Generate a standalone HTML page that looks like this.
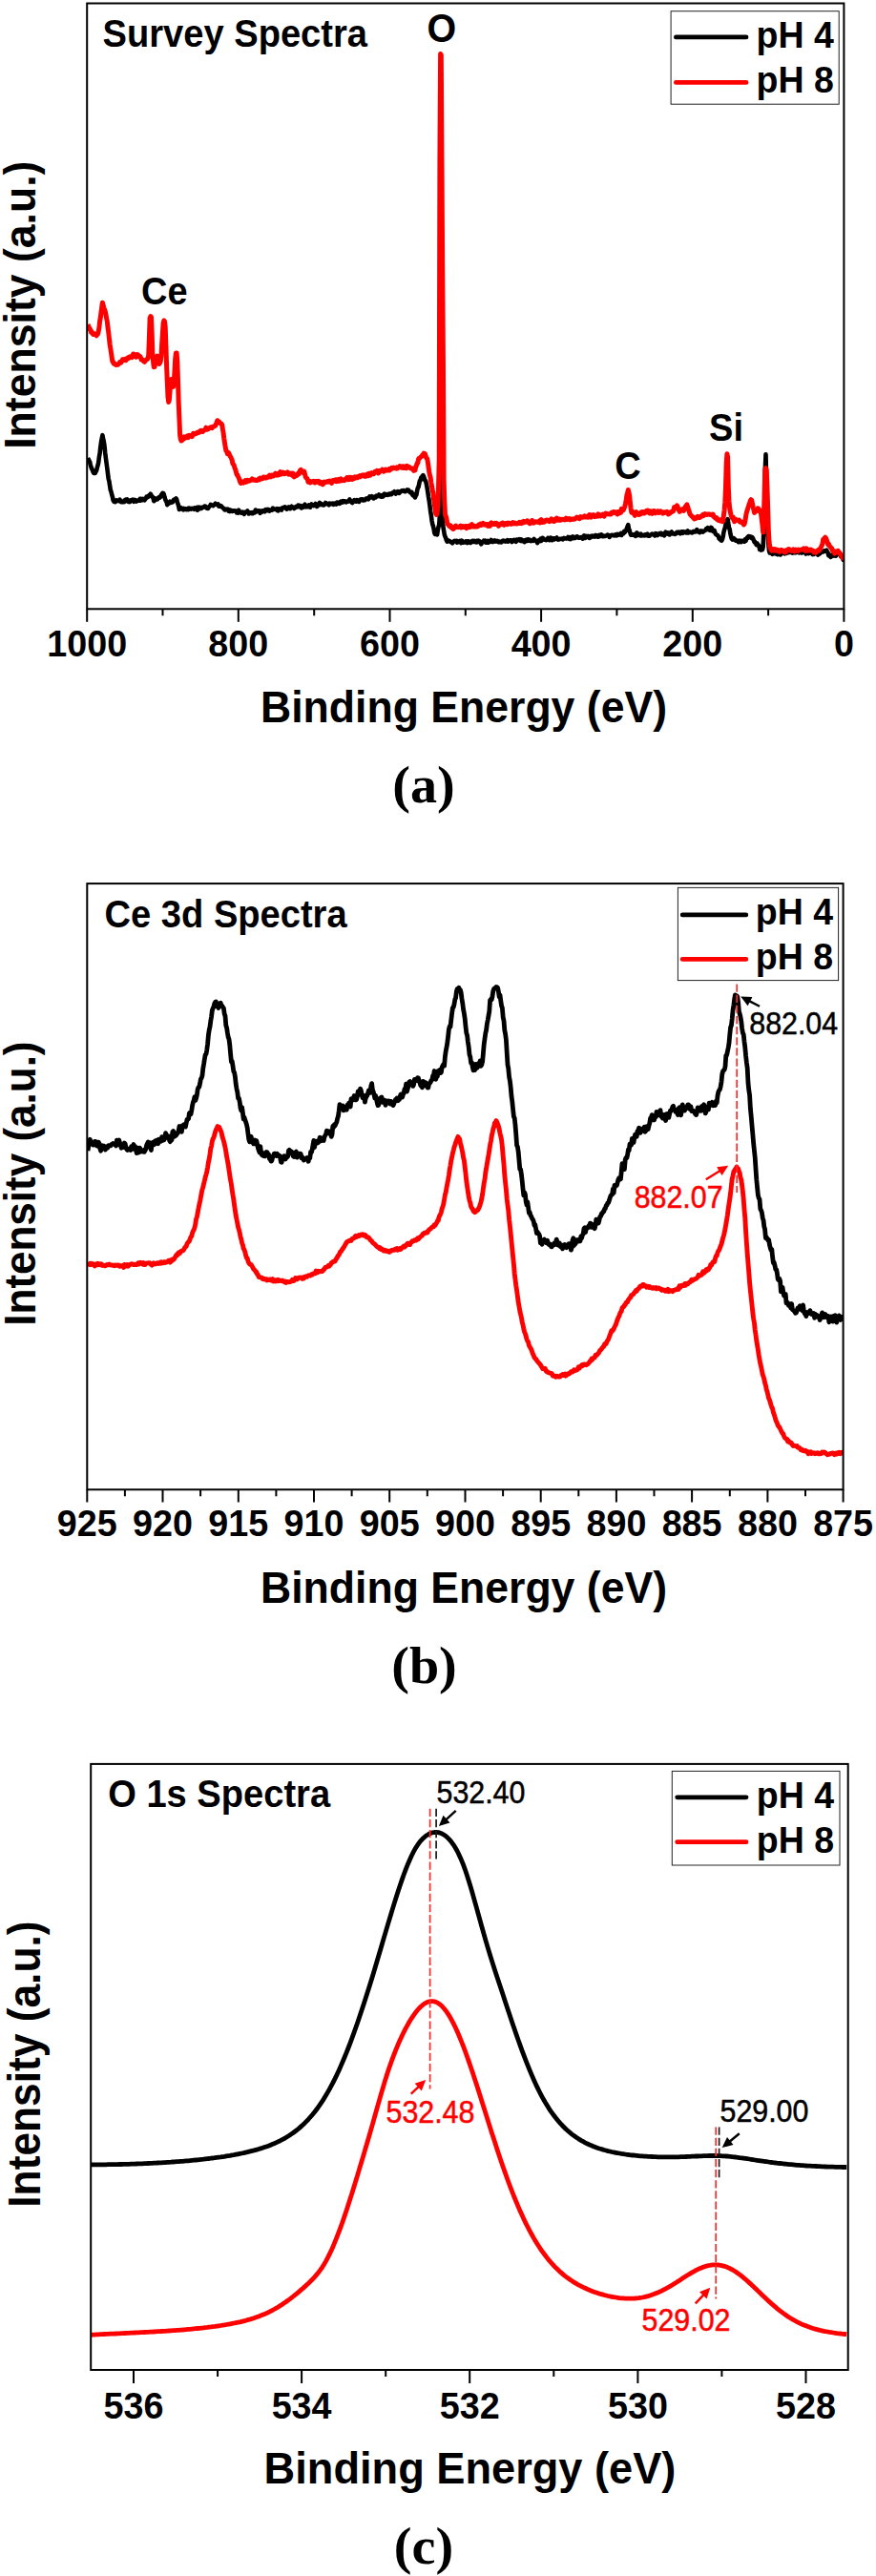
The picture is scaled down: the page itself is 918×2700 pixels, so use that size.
<!DOCTYPE html>
<html lang="en">
<head>
<meta charset="utf-8">
<title>XPS spectra</title>
<style>
html,body{margin:0;padding:0;background:#fff;}
body{width:918px;height:2700px;overflow:hidden;}
svg{display:block;}
svg text{font-family:"Liberation Sans",sans-serif;}
</style>
</head>
<body>
<svg width="918" height="2700" viewBox="0 0 918 2700">
<rect x="0" y="0" width="918" height="2700" fill="#ffffff"/>
<g id="chart-a">
<clipPath id="ca"><rect x="91.2" y="3.5" width="793.1999999999999" height="634.8"/></clipPath>
<g clip-path="url(#ca)">
<polyline points="92,480.2 92.7,481.4 93.4,483.1 94.1,484 94.8,487.3 95.5,489.7 96.2,491.4 96.9,492.7 97.6,494.6 98.3,495.8 99,496 99.7,495.9 100.4,494.5 101.1,493.2 101.8,490.2 102.5,487.9 103.2,484.8 103.9,479 104.6,475.3 105.3,468.6 106,463.5 106.7,459.7 107.4,456.2 108.1,459.6 108.8,462.8 109.5,467.4 110.2,474.5 110.9,480.1 111.6,485.5 112.3,490.7 113,496.4 113.7,501.9 114.4,504.3 115.1,509.2 115.8,513.7 116.5,515.4 117.2,518.4 117.9,520.8 118.6,524.4 119.3,525.6 120,524.7 120.7,526.2 121.4,525.4 122.1,524.3 122.8,525 123.5,525 124.2,524.9 124.9,525.2 125.6,523.7 126.3,525.1 127,526.2 127.7,526.2 128.4,526.3 129.1,526.3 129.8,526.3 130.5,524.4 131.2,525.4 131.9,523.5 132.6,524 133.3,523.4 134,525.6 134.7,525.9 135.4,524.9 136.1,526 136.8,524.3 137.5,524.6 138.2,524.5 138.9,523.7 139.6,524.9 140.3,525.8 141,523.8 141.7,524.9 142.4,524.4 143.1,525.6 143.8,524.8 144.5,524.7 145.2,524.6 145.9,524.1 146.6,523 147.3,524.7 148,522.9 148.7,523.9 149.4,524.1 150.1,523 150.8,523.6 151.5,524.3 152.2,523.3 152.9,522.2 153.6,520.6 154.3,521.5 155,521 155.7,520.1 156.4,519 157.1,518.9 157.8,517.7 158.5,519.1 159.2,520.7 159.9,520.7 160.6,522.3 161.3,525.2 162,524.4 162.7,522.4 163.4,522.9 164.1,523.3 164.8,523.5 165.5,522.4 166.2,521.5 166.9,521.1 167.6,521.5 168.3,520.4 169,518.7 169.7,517.9 170.4,516.9 171.1,517 171.8,518.2 172.5,521 173.2,523.4 173.9,525 174.6,526.1 175.3,529.2 176,527.6 176.7,527.9 177.4,526.7 178.1,525.7 178.8,526.9 179.5,526.8 180.2,526.3 180.9,526.2 181.6,524.7 182.3,523.6 183,523.4 183.7,524 184.4,522.3 185.1,523.3 185.8,526.3 186.5,528.1 187.2,530.6 187.9,534 188.6,532.9 189.3,531.9 190,532.5 190.7,533.4 191.4,533.6 192.1,534.3 192.8,533 193.5,533.9 194.2,533.8 194.9,533.4 195.6,534.1 196.3,533.8 197,532.9 197.7,534 198.4,532.6 199.1,533.3 199.8,533.5 200.5,533.6 201.2,532.8 201.9,533.1 202.6,533.1 203.3,533.7 204,532.5 204.7,532.9 205.4,532.5 206.1,532 206.8,534.7 207.5,532.7 208.2,531.6 208.9,533.3 209.6,531.8 210.3,532.6 211,532.9 211.7,531.8 212.4,531.7 213.1,531.6 213.8,531.7 214.5,530.5 215.2,530.7 215.9,531.7 216.6,532.6 217.3,532.4 218,532.9 218.7,531.8 219.4,530.6 220.1,530.4 220.8,528.8 221.5,529.2 222.2,529.2 222.9,530 223.6,530.1 224.3,529 225,528.5 225.7,527.7 226.4,528.6 227.1,528.8 227.8,528.7 228.5,528.3 229.2,530.7 229.9,530.7 230.6,530 231.3,530 232,530.6 232.7,531.5 233.4,531.9 234.1,532.7 234.8,533.5 235.5,534.5 236.2,534.5 236.9,533.7 237.6,534 238.3,533.6 239,533.8 239.7,535.6 240.4,534.5 241.1,536 241.8,534.7 242.5,535.2 243.2,535.9 243.9,535.4 244.6,535.6 245.3,535.3 246,535.2 246.7,535.6 247.4,535.6 248.1,537.3 248.8,536.5 249.5,537.5 250.2,534.7 250.9,536.5 251.6,537.2 252.3,536.7 253,537.6 253.7,537.3 254.4,536.6 255.1,537.3 255.8,538.9 256.5,537.1 257.2,536.8 257.9,536.3 258.6,536.5 259.3,535.5 260,536.5 260.7,538.5 261.4,537.6 262.1,537.2 262.8,537.5 263.5,538 264.2,537.2 264.9,538.1 265.6,537.4 266.3,536.7 267,537.4 267.7,534.5 268.4,535.5 269.1,536.2 269.8,535.3 270.5,535.6 271.2,535.3 271.9,535.5 272.6,537.8 273.3,536.3 274,535.6 274.7,536.4 275.4,535.3 276.1,535.9 276.8,535.7 277.5,536.2 278.2,534.1 278.9,535.3 279.6,534.8 280.3,533.9 281,535.2 281.7,534.1 282.4,535.6 283.1,535 283.8,534.8 284.5,534.4 285.2,534.6 285.9,532.6 286.6,533.7 287.3,533.4 288,533.9 288.7,533.7 289.4,534 290.1,533.2 290.8,535.1 291.5,535.4 292.2,533.4 292.9,533.3 293.6,533.6 294.3,534.4 295,534.6 295.7,532.2 296.4,532.2 297.1,531.9 297.8,531.7 298.5,531.4 299.2,532.7 299.9,531.9 300.6,533.7 301.3,533.2 302,531.6 302.7,531.4 303.4,531.8 304.1,533.1 304.8,531.5 305.5,530.8 306.2,531.8 306.9,532.2 307.6,531.6 308.3,533 309,532.1 309.7,532 310.4,531 311.1,531.4 311.8,531.1 312.5,529.6 313.2,531.1 313.9,529.9 314.6,530.8 315.3,530.2 316,532.5 316.7,531.5 317.4,531.7 318.1,531.5 318.8,529.6 319.5,528.8 320.2,530.2 320.9,531.3 321.6,530.8 322.3,531.2 323,531 323.7,529.3 324.4,530.5 325.1,531.7 325.8,529.6 326.5,528.4 327.2,529.5 327.9,529.5 328.6,530 329.3,529.1 330,529.4 330.7,528 331.4,530.1 332.1,530.9 332.8,530.4 333.5,528.3 334.2,529 334.9,526.9 335.6,529 336.3,528.9 337,528.2 337.7,529.1 338.4,529.1 339.1,529.5 339.8,528.9 340.5,528.6 341.2,527 341.9,527.3 342.6,528 343.3,528.5 344,528.5 344.7,529.3 345.4,527.6 346.1,527.8 346.8,528.2 347.5,527.8 348.2,528.2 348.9,527.6 349.6,528.8 350.3,527.7 351,528.4 351.7,527.8 352.4,528.5 353.1,526.5 353.8,527.5 354.5,527 355.2,527.4 355.9,527.9 356.6,526 357.3,525.6 358,525.9 358.7,526.6 359.4,525.1 360.1,526.2 360.8,525.3 361.5,525.2 362.2,525.8 362.9,526.3 363.6,525.5 364.3,525.5 365,525.7 365.7,525.2 366.4,523.5 367.1,524.9 367.8,525.6 368.5,526.4 369.2,527 369.9,525.9 370.6,525.1 371.3,524.2 372,524.9 372.7,525.5 373.4,525.7 374.1,524.1 374.8,524.7 375.5,525.3 376.2,525.9 376.9,524.6 377.6,523.7 378.3,523.4 379,523.5 379.7,523.4 380.4,524.4 381.1,524.5 381.8,524.2 382.5,524.2 383.2,522.8 383.9,523.1 384.6,522.4 385.3,522.7 386,523.3 386.7,522.1 387.4,520.5 388.1,521.4 388.8,520.9 389.5,520.2 390.2,520.7 390.9,522 391.6,522.4 392.3,520.8 393,521.5 393.7,521.4 394.4,519.6 395.1,520.1 395.8,520.1 396.5,519.9 397.2,518.5 397.9,519.3 398.6,520.4 399.3,520.7 400,520.8 400.7,519.2 401.4,520.4 402.1,519.4 402.8,517.7 403.5,518.9 404.2,518.2 404.9,518.6 405.6,518.2 406.3,518.9 407,518.1 407.7,517.6 408.4,518.3 409.1,517.6 409.8,517.1 410.5,518 411.2,516.7 411.9,516.2 412.6,516.1 413.3,515.3 414,516 414.7,517.6 415.4,515.7 416.1,515.8 416.8,515 417.5,515.3 418.2,516.9 418.9,516.3 419.6,515 420.3,515.1 421,514.4 421.7,514.3 422.4,514.1 423.1,514.1 423.8,515 424.5,515.3 425.2,515.1 425.9,514.3 426.6,513.4 427.3,514.1 428,513.6 428.7,514.9 429.4,515.6 430.1,516.3 430.8,516 431.5,515.8 432.2,518.5 432.9,519.4 433.6,518.2 434.3,520 435,521.4 435.7,519.4 436.4,518.5 437.1,514.5 437.8,511.4 438.5,510.5 439.2,507.3 439.9,504 440.6,503.4 441.3,500.5 442,501.6 442.7,498.8 443.4,498.1 444.1,499.5 444.8,501.8 445.5,503.7 446.2,504.3 446.9,507.4 447.6,511.3 448.3,515.6 449,520.6 449.7,524.7 450.4,529.7 451.1,535.6 451.8,539.8 452.5,545.3 453.2,549.2 453.9,551.4 454.6,554.2 455.3,558.7 456,560 456.7,559.8 457.4,559.4 458.1,560.4 458.8,555.5 459.5,552.2 460.2,550.1 460.9,539.8 461.6,520.4 462.3,299.3 463,373.8 463.7,534.9 464.4,552.1 465.1,556.2 465.8,560.5 466.5,562.4 467.2,564 467.9,566.2 468.6,567.6 469.3,566.4 470,566.5 470.7,567 471.4,567.2 472.1,568 472.8,568.3 473.5,568.4 474.2,569.3 474.9,568.3 475.6,567.4 476.3,566.9 477,567.3 477.7,567.2 478.4,566.8 479.1,568.6 479.8,568.4 480.5,567.8 481.2,567.3 481.9,566.8 482.6,567.5 483.3,569.2 484,566.6 484.7,568 485.4,568.7 486.1,568.2 486.8,567.9 487.5,568.4 488.2,567.3 488.9,568.4 489.6,569 490.3,567.2 491,567.2 491.7,568 492.4,568.8 493.1,569 493.8,568.4 494.5,567.2 495.2,566.8 495.9,567.8 496.6,567.9 497.3,566.9 498,567.6 498.7,568 499.4,568.4 500.1,567 500.8,567.8 501.5,566.7 502.2,567.1 502.9,567.6 503.6,569.1 504.3,570.3 505,568.1 505.7,568 506.4,568.2 507.1,566.6 507.8,567.8 508.5,566.7 509.2,568.7 509.9,568.7 510.6,567.8 511.3,566.9 512,568.6 512.7,567.7 513.4,567.5 514.1,567.6 514.8,566 515.5,567.5 516.2,568.1 516.9,567.6 517.6,567.2 518.3,566.5 519,567.6 519.7,567.4 520.4,567.1 521.1,566.8 521.8,567.8 522.5,568.2 523.2,567.6 523.9,567.9 524.6,568.3 525.3,568.4 526,567.3 526.7,566.8 527.4,566.6 528.1,567 528.8,567.4 529.5,567.6 530.2,566.7 530.9,566.8 531.6,566.2 532.3,567.7 533,566.7 533.7,567 534.4,566.2 535.1,566.4 535.8,566.4 536.5,568 537.2,567.1 537.9,566.5 538.6,565.8 539.3,566.1 540,567.2 540.7,567.8 541.4,565.6 542.1,565.7 542.8,566.3 543.5,565.9 544.2,565.2 544.9,566.4 545.6,566.9 546.3,565.3 547,566.6 547.7,567.3 548.4,567.2 549.1,566.4 549.8,568.2 550.5,567 551.2,565.9 551.9,566.9 552.6,565.6 553.3,566.8 554,565.5 554.7,566.7 555.4,566 556.1,567.1 556.8,567 557.5,566.6 558.2,566.4 558.9,566.8 559.6,564.9 560.3,566.3 561,566.5 561.7,566.7 562.4,567.2 563.1,569 563.8,566.6 564.5,566.7 565.2,566.4 565.9,567 566.6,564.7 567.3,566.9 568,565.2 568.7,563.8 569.4,564.6 570.1,565.5 570.8,565.8 571.5,565.7 572.2,566.2 572.9,565.6 573.6,565.2 574.3,563.8 575,565.6 575.7,566.1 576.4,564.9 577.1,563.6 577.8,564.1 578.5,566.2 579.2,564.7 579.9,564.4 580.6,564.4 581.3,565.3 582,564.4 582.7,564 583.4,563.5 584.1,564.6 584.8,565.5 585.5,564.8 586.2,565.3 586.9,564.8 587.6,564.7 588.3,564.7 589,564.6 589.7,565.3 590.4,564.8 591.1,563.9 591.8,564.3 592.5,564.2 593.2,564.6 593.9,564.4 594.6,564.3 595.3,563 596,564.3 596.7,564.9 597.4,563.2 598.1,565 598.8,564.2 599.5,563.4 600.2,562.4 600.9,564.2 601.6,562.9 602.3,563.1 603,563.8 603.7,562.6 604.4,562.4 605.1,562.4 605.8,563.2 606.5,563.8 607.2,563.7 607.9,563.5 608.6,563 609.3,563.1 610,562.8 610.7,564.5 611.4,563.1 612.1,561.3 612.8,562 613.5,563.8 614.2,561.9 614.9,562.3 615.6,562.9 616.3,562 617,563.5 617.7,563.9 618.4,562.2 619.1,563.2 619.8,561.8 620.5,561.5 621.2,562.5 621.9,562.4 622.6,561.9 623.3,562.6 624,561 624.7,561.2 625.4,561.2 626.1,562.6 626.8,562.8 627.5,562.4 628.2,561 628.9,561.8 629.6,562 630.3,560.4 631,561 631.7,562.1 632.4,562.2 633.1,561.9 633.8,562 634.5,561.8 635.2,561.6 635.9,561.2 636.6,560.6 637.3,561 638,561.1 638.7,563 639.4,561.6 640.1,561.1 640.8,560.9 641.5,560.9 642.2,560.8 642.9,561.3 643.6,561 644.3,561.4 645,560.4 645.7,561 646.4,561.3 647.1,559.8 647.8,560.6 648.5,560.7 649.2,560.2 649.9,559.8 650.6,559 651.3,561 652,559.6 652.7,558.7 653.4,559.1 654.1,556.8 654.8,557.8 655.5,556.9 656.2,555.8 656.9,553.9 657.6,551.7 658.3,550.2 659,554.5 659.7,555.9 660.4,558.4 661.1,560.7 661.8,559.9 662.5,560.7 663.2,560.8 663.9,560.7 664.6,560.1 665.3,560.5 666,561.9 666.7,561.3 667.4,558.4 668.1,559 668.8,560.9 669.5,560.7 670.2,560.6 670.9,561.3 671.6,559.6 672.3,561.5 673,561 673.7,561.1 674.4,561 675.1,561.3 675.8,560.4 676.5,560.2 677.2,561.1 677.9,560.6 678.6,559.7 679.3,561.6 680,561.7 680.7,561.7 681.4,560.7 682.1,560.7 682.8,560 683.5,559.6 684.2,560.3 684.9,560.4 685.6,560 686.3,561.5 687,559.1 687.7,559.3 688.4,559.7 689.1,561 689.8,559.9 690.5,559.6 691.2,559.1 691.9,559 692.6,558.8 693.3,560.5 694,560.4 694.7,560.4 695.4,559.4 696.1,561.3 696.8,558.7 697.5,557.7 698.2,558.9 698.9,559.4 699.6,559.7 700.3,558.5 701,559.6 701.7,560.4 702.4,558.4 703.1,558.1 703.8,557.5 704.5,558.9 705.2,559.5 705.9,559.5 706.6,559.5 707.3,559.8 708,558.9 708.7,559.1 709.4,557.7 710.1,557.7 710.8,558.3 711.5,557.7 712.2,558.7 712.9,559.3 713.6,558.5 714.3,557.4 715,557.4 715.7,558.8 716.4,557.4 717.1,557.8 717.8,557.6 718.5,557.8 719.2,558.4 719.9,557.1 720.6,556.5 721.3,558.5 722,557.8 722.7,558 723.4,557.5 724.1,558 724.8,558.5 725.5,558.4 726.2,557.1 726.9,556.9 727.6,557.4 728.3,557.3 729,557.4 729.7,556.2 730.4,555.1 731.1,557.1 731.8,557.5 732.5,557.5 733.2,558.2 733.9,557.5 734.6,556.5 735.3,557.3 736,556.7 736.7,557.5 737.4,556.7 738.1,556.5 738.8,556.1 739.5,555.5 740.2,554.2 740.9,554.8 741.6,553.1 742.3,554.9 743,555.4 743.7,555.8 744.4,554.3 745.1,552.9 745.8,553.3 746.5,556.4 747.2,555.2 747.9,557.1 748.6,555.9 749.3,558.2 750,559.8 750.7,560.4 751.4,560.9 752.1,561.2 752.8,562.1 753.5,564.4 754.2,565 754.9,565.4 755.6,566.4 756.3,566.7 757,565.1 757.7,562.3 758.4,557.8 759.1,555.4 759.8,553.1 760.5,549.4 761.2,548.5 761.9,545.4 762.6,544.2 763.3,548.9 764,553.1 764.7,554.9 765.4,559.5 766.1,562.6 766.8,564.7 767.5,565.5 768.2,564.8 768.9,564.2 769.6,564.5 770.3,565.9 771,566.7 771.7,566.5 772.4,566.6 773.1,567 773.8,568.2 774.5,567.8 775.2,566.7 775.9,567.1 776.6,568.1 777.3,566.9 778,566.9 778.7,567.1 779.4,566.6 780.1,567.7 780.8,565.3 781.5,566.9 782.2,565 782.9,563.7 783.6,563.9 784.3,562 785,562.9 785.7,562.9 786.4,562.3 787.1,562.8 787.8,564 788.5,563.3 789.2,564.6 789.9,566.3 790.6,568.3 791.3,568.1 792,569.6 792.7,571.1 793.4,569.4 794.1,571.5 794.8,571.3 795.5,572.4 796.2,576 796.9,575.6 797.6,576.5 798.3,575.5 799,576.1 799.7,573 800.4,554.9 801.1,534 801.8,493 802.5,476.2 803.2,504.6 803.9,542.2 804.6,555.9 805.3,569.9 806,577.3 806.7,579.4 807.4,578.9 808.1,579.7 808.8,579.9 809.5,580.8 810.2,580.4 810.9,580 811.6,580 812.3,580.2 813,580.5 813.7,580.4 814.4,581 815.1,581.2 815.8,580.2 816.5,578.8 817.2,581 817.9,581.4 818.6,579.4 819.3,578.9 820,577.9 820.7,579.7 821.4,578.9 822.1,580.4 822.8,577.6 823.5,579.2 824.2,579.8 824.9,578.9 825.6,578.6 826.3,579.2 827,578.7 827.7,578.8 828.4,578.9 829.1,578.6 829.8,578.8 830.5,579.5 831.2,578.7 831.9,578.9 832.6,578.4 833.3,579.3 834,578 834.7,579.1 835.4,576.4 836.1,577.5 836.8,577.4 837.5,579.3 838.2,578.8 838.9,577.5 839.6,578.1 840.3,579.5 841,578.6 841.7,578.7 842.4,577.1 843.1,577.2 843.8,579.1 844.5,580.5 845.2,578.7 845.9,579.3 846.6,578.6 847.3,580.1 848,579.1 848.7,578.9 849.4,578.1 850.1,579.3 850.8,580.2 851.5,581 852.2,579.5 852.9,580.9 853.6,580.2 854.3,580.2 855,579.8 855.7,579.3 856.4,580 857.1,581.6 857.8,579.5 858.5,579.6 859.2,580.2 859.9,577.7 860.6,579 861.3,578.2 862,578.4 862.7,578.5 863.4,577.5 864.1,577.2 864.8,577.6 865.5,577.3 866.2,576.7 866.9,578.3 867.6,579.2 868.3,582.3 869,581.2 869.7,582.4 870.4,583.9 871.1,583.4 871.8,582.7 872.5,582 873.2,581.8 873.9,582.5 874.6,581.7 875.3,581.3 876,582.7 876.7,580.2 877.4,580 878.1,580 878.8,580.3 879.5,580.2 880.2,580.8 880.9,582.6 881.6,583.6 882.3,583.8 883,583.4 883.7,586.7 883.8,585.8" fill="none" stroke="#000000" stroke-width="4.6" stroke-linejoin="round" stroke-linecap="butt" />
<polyline points="92,340.4 92.7,341.4 93.4,344.7 94.1,344.3 94.8,345.8 95.5,348.2 96.2,347.8 96.9,349.3 97.6,350.4 98.3,350.2 99,349.8 99.7,350.8 100.4,351.1 101.1,351.8 101.8,350.5 102.5,350.1 103.2,347.4 103.9,343.4 104.6,336.6 105.3,333.1 106,327.1 106.7,322.1 107.4,317.2 108.1,319.6 108.8,322.6 109.5,324.3 110.2,326.1 110.9,329.4 111.6,333.3 112.3,337 113,343 113.7,348.1 114.4,354.6 115.1,360.6 115.8,365.2 116.5,370 117.2,374.7 117.9,379 118.6,379.2 119.3,381.3 120,381 120.7,381.8 121.4,382.5 122.1,382.3 122.8,381.9 123.5,382.3 124.2,381.7 124.9,380.7 125.6,379.5 126.3,379.3 127,380 127.7,378.6 128.4,376.8 129.1,376.7 129.8,376.6 130.5,377.4 131.2,376.4 131.9,377.7 132.6,376.4 133.3,375.5 134,374.9 134.7,375.6 135.4,374.5 136.1,373.8 136.8,374.5 137.5,374.1 138.2,374.6 138.9,373.2 139.6,371 140.3,373.1 141,371.5 141.7,373.7 142.4,374.2 143.1,372.4 143.8,371.6 144.5,371.7 145.2,373.5 145.9,373.1 146.6,373.3 147.3,374.5 148,376.9 148.7,376.5 149.4,377.3 150.1,378.1 150.8,378.9 151.5,379.3 152.2,377.6 152.9,377.4 153.6,376.7 154.3,376.5 155,375.7 155.7,372.6 156.4,353.8 157.1,333.5 157.8,331.5 158.5,332.5 159.2,349.7 159.9,371.5 160.6,379.6 161.3,384.7 162,384.6 162.7,379.8 163.4,375.2 164.1,374.2 164.8,373.1 165.5,375.3 166.2,376.5 166.9,381.5 167.6,380.3 168.3,378.5 169,372.6 169.7,360.1 170.4,349.2 171.1,338.9 171.8,336 172.5,336.9 173.2,342.5 173.9,362.2 174.6,384.1 175.3,400 176,416.2 176.7,421.5 177.4,418.6 178.1,409.8 178.8,400.8 179.5,397.6 180.2,400.1 180.9,401.5 181.6,405.4 182.3,400.3 183,389.2 183.7,376 184.4,370 185.1,369.9 185.8,378.6 186.5,398.3 187.2,421.9 187.9,438.4 188.6,455.8 189.3,460.3 190,462 190.7,461.6 191.4,460.8 192.1,459 192.8,458 193.5,459.5 194.2,458.7 194.9,458.3 195.6,457.3 196.3,456.9 197,458.6 197.7,457.7 198.4,456.3 199.1,457 199.8,456.8 200.5,456.9 201.2,457.7 201.9,455.7 202.6,454.3 203.3,454.9 204,454.3 204.7,454.9 205.4,454.5 206.1,454.2 206.8,453.3 207.5,453.6 208.2,452.8 208.9,453.1 209.6,452.2 210.3,451.3 211,452.1 211.7,451.3 212.4,452.5 213.1,451.6 213.8,451.2 214.5,450.6 215.2,449.9 215.9,448.2 216.6,450.3 217.3,449 218,449.9 218.7,448.7 219.4,448.8 220.1,448.5 220.8,447.8 221.5,448.3 222.2,448.7 222.9,447.8 223.6,447 224.3,446.9 225,446.5 225.7,446.1 226.4,444.6 227.1,442.8 227.8,440.7 228.5,442 229.2,441.9 229.9,442.2 230.6,443.5 231.3,443.9 232,444.1 232.7,445.1 233.4,449.9 234.1,453.9 234.8,459.8 235.5,464.1 236.2,469 236.9,472.2 237.6,472.9 238.3,475.5 239,474.2 239.7,474.7 240.4,476.3 241.1,478.2 241.8,478.9 242.5,480.6 243.2,482.3 243.9,486 244.6,486.5 245.3,487.9 246,490.5 246.7,492.1 247.4,494.6 248.1,497.5 248.8,497.8 249.5,499.5 250.2,500.9 250.9,502.7 251.6,505.1 252.3,506.5 253,505.5 253.7,504.9 254.4,505.4 255.1,506.1 255.8,505.3 256.5,504.8 257.2,503.6 257.9,505.3 258.6,503.4 259.3,503.3 260,503.9 260.7,504.2 261.4,504 262.1,503.3 262.8,503.4 263.5,502.9 264.2,502 264.9,502.9 265.6,502.7 266.3,503.3 267,502.9 267.7,503.6 268.4,503.4 269.1,503.4 269.8,503.4 270.5,502.8 271.2,502 271.9,502.7 272.6,501 273.3,501.4 274,501.9 274.7,501 275.4,501.4 276.1,500.1 276.8,500.1 277.5,500.9 278.2,501 278.9,501.1 279.6,500 280.3,500 281,500.2 281.7,499.7 282.4,498.2 283.1,498.6 283.8,499.9 284.5,498 285.2,498.9 285.9,498.3 286.6,498.9 287.3,497.6 288,497.7 288.7,496.2 289.4,497.6 290.1,498.2 290.8,496.5 291.5,498 292.2,496.7 292.9,496.6 293.6,494.7 294.3,497.2 295,495.9 295.7,495.8 296.4,495.1 297.1,495.3 297.8,496.7 298.5,495.7 299.2,496.3 299.9,495.5 300.6,495.6 301.3,494.9 302,495.7 302.7,497.2 303.4,496.3 304.1,496.3 304.8,496.1 305.5,497.6 306.2,498.1 306.9,496.1 307.6,496.8 308.3,499.9 309,499.3 309.7,499 310.4,498.7 311.1,498.4 311.8,497.4 312.5,496 313.2,496.8 313.9,494.6 314.6,493 315.3,492.4 316,493.5 316.7,494.2 317.4,495.1 318.1,495.9 318.8,494.1 319.5,497 320.2,499.9 320.9,500.9 321.6,501.2 322.3,502.6 323,505.1 323.7,504.3 324.4,504.2 325.1,505.9 325.8,504.6 326.5,505.2 327.2,504.9 327.9,504.8 328.6,504.2 329.3,504.5 330,506 330.7,504.5 331.4,505.3 332.1,504.5 332.8,505.2 333.5,505.4 334.2,504.5 334.9,506.5 335.6,506 336.3,506.8 337,505.5 337.7,506.7 338.4,507.7 339.1,506 339.8,505.1 340.5,505.7 341.2,505.5 341.9,505 342.6,504.9 343.3,504.6 344,505.1 344.7,504.4 345.4,504 346.1,505.1 346.8,504.7 347.5,506.4 348.2,504.2 348.9,503.4 349.6,503.5 350.3,504 351,503.1 351.7,502.8 352.4,504.6 353.1,502.8 353.8,504.4 354.5,503.4 355.2,502.5 355.9,504.2 356.6,502.8 357.3,502 358,502.8 358.7,503.7 359.4,503.2 360.1,503.3 360.8,503.7 361.5,502.5 362.2,502.3 362.9,501.6 363.6,500.6 364.3,501.6 365,502.7 365.7,500.4 366.4,502.3 367.1,501.5 367.8,500.4 368.5,501.2 369.2,502.3 369.9,500.6 370.6,501.4 371.3,501.5 372,499.9 372.7,500.8 373.4,500.7 374.1,499.9 374.8,500.5 375.5,499.6 376.2,499.2 376.9,498.7 377.6,499.7 378.3,499.1 379,498.7 379.7,498.1 380.4,497.8 381.1,498.2 381.8,499 382.5,498 383.2,499.3 383.9,498.5 384.6,497.8 385.3,496.8 386,498.6 386.7,496.2 387.4,497.3 388.1,498 388.8,496.4 389.5,495.6 390.2,496 390.9,496.6 391.6,496.8 392.3,495.8 393,494.2 393.7,494.2 394.4,494.6 395.1,493.5 395.8,494.3 396.5,495.9 397.2,493.6 397.9,494.7 398.6,493.2 399.3,493.3 400,493.3 400.7,492.2 401.4,493.1 402.1,494.2 402.8,493.7 403.5,493.4 404.2,492.1 404.9,492.4 405.6,492.6 406.3,493 407,493.1 407.7,491.5 408.4,493 409.1,491.6 409.8,491.2 410.5,490.4 411.2,491.1 411.9,490.8 412.6,490 413.3,490.5 414,490.8 414.7,490.4 415.4,491 416.1,489.8 416.8,490.8 417.5,490.1 418.2,490.1 418.9,488.5 419.6,489.7 420.3,489.7 421,490.2 421.7,488.9 422.4,490.3 423.1,488.9 423.8,490.4 424.5,489.9 425.2,489 425.9,490.7 426.6,488.4 427.3,488.9 428,489.3 428.7,489.5 429.4,489.9 430.1,490.8 430.8,491.1 431.5,491.2 432.2,491 432.9,492 433.6,493.3 434.3,492.5 435,492.8 435.7,489.3 436.4,488 437.1,485.6 437.8,485.4 438.5,481.3 439.2,480.3 439.9,480.1 440.6,479.3 441.3,478.7 442,478.2 442.7,477 443.4,476.4 444.1,475.2 444.8,476 445.5,475.8 446.2,478.3 446.9,480.2 447.6,480.6 448.3,484.1 449,489.2 449.7,494.2 450.4,498 451.1,500.2 451.8,505.6 452.5,509.3 453.2,513.8 453.9,516.5 454.6,523.4 455.3,528 456,533.4 456.7,538.3 457.4,539.4 458.1,537.4 458.8,530.3 459.5,513.2 460.2,481.9 460.9,171.3 461.6,56.5 462.3,57.6 463,171 463.7,280 464.4,374 465.1,502.6 465.8,525.2 466.5,539.5 467.2,540.9 467.9,543.1 468.6,547.7 469.3,549.5 470,550.1 470.7,551.5 471.4,551.1 472.1,550.8 472.8,553.1 473.5,553.3 474.2,553.3 474.9,554.4 475.6,554.1 476.3,552.3 477,551.6 477.7,551.1 478.4,552.4 479.1,552.3 479.8,552.8 480.5,552.5 481.2,551.9 481.9,551.8 482.6,551.2 483.3,553 484,552 484.7,552.5 485.4,551.6 486.1,552.1 486.8,552.5 487.5,551.7 488.2,551.5 488.9,553.6 489.6,551.9 490.3,552.1 491,551.6 491.7,551.1 492.4,552.6 493.1,552 493.8,551.5 494.5,549.6 495.2,551.4 495.9,552 496.6,551.5 497.3,551.2 498,552.1 498.7,551.5 499.4,551.6 500.1,552 500.8,551.7 501.5,550 502.2,550.9 502.9,550 503.6,549.1 504.3,550.5 505,549.2 505.7,549.8 506.4,548.4 507.1,549.4 507.8,550 508.5,550.3 509.2,549.8 509.9,549.4 510.6,549.6 511.3,551.3 512,549.9 512.7,550.2 513.4,551.4 514.1,548.6 514.8,548 515.5,548.8 516.2,549.3 516.9,548.8 517.6,549.6 518.3,549.5 519,548.4 519.7,549.4 520.4,548.5 521.1,549.9 521.8,549.9 522.5,551.3 523.2,550.2 523.9,549.3 524.6,549.5 525.3,549.3 526,548.4 526.7,548 527.4,549.9 528.1,550.3 528.8,548.7 529.5,548.6 530.2,548.6 530.9,549.7 531.6,549.7 532.3,548.1 533,548.3 533.7,548.2 534.4,548.8 535.1,549.3 535.8,549.4 536.5,548.3 537.2,547.7 537.9,548.8 538.6,548.9 539.3,548.1 540,548.4 540.7,548.6 541.4,549 542.1,548.4 542.8,548.5 543.5,548.2 544.2,547.4 544.9,548.5 545.6,548.2 546.3,548.6 547,547 547.7,547.2 548.4,547.8 549.1,546.4 549.8,547.4 550.5,547.3 551.2,547.2 551.9,547.1 552.6,545.8 553.3,547.3 554,547.6 554.7,548.4 555.4,548.7 556.1,547.9 556.8,547.8 557.5,545.5 558.2,547.5 558.9,548.2 559.6,548 560.3,547.3 561,546.8 561.7,546.7 562.4,547 563.1,547.3 563.8,547.4 564.5,546.7 565.2,546 565.9,548 566.6,545.9 567.3,544.6 568,547.5 568.7,547.5 569.4,546.8 570.1,547.2 570.8,546.7 571.5,545.7 572.2,546.1 572.9,545.1 573.6,545.3 574.3,545.3 575,546.1 575.7,546.7 576.4,545.5 577.1,545.8 577.8,543.9 578.5,544.6 579.2,546 579.9,546.4 580.6,546.4 581.3,546.1 582,544.1 582.7,544.4 583.4,543 584.1,544.7 584.8,545.2 585.5,544.6 586.2,544.2 586.9,545.2 587.6,545.3 588.3,544.8 589,544.2 589.7,544.6 590.4,544.6 591.1,544.8 591.8,544.9 592.5,544.2 593.2,543.1 593.9,543.9 594.6,544.4 595.3,543.8 596,544.1 596.7,543.6 597.4,544.9 598.1,544.3 598.8,544 599.5,544.4 600.2,544.3 600.9,543.8 601.6,544.3 602.3,544 603,543.5 603.7,543.1 604.4,542.2 605.1,543 605.8,543 606.5,542.3 607.2,543.7 607.9,542.7 608.6,541.6 609.3,542 610,542.3 610.7,542.1 611.4,541.5 612.1,541.9 612.8,540.8 613.5,541.4 614.2,542 614.9,541.3 615.6,542.1 616.3,542.2 617,540.8 617.7,539.5 618.4,541.8 619.1,542.2 619.8,540 620.5,541 621.2,541 621.9,539.5 622.6,540.2 623.3,541.6 624,540.8 624.7,540.6 625.4,541.2 626.1,539.7 626.8,538.8 627.5,540.9 628.2,539.5 628.9,539.9 629.6,540.8 630.3,540.1 631,539.7 631.7,539.1 632.4,540.1 633.1,541.1 633.8,538.9 634.5,538.2 635.2,539 635.9,538.3 636.6,538.7 637.3,538.7 638,538.9 638.7,538.6 639.4,538.6 640.1,539 640.8,537.3 641.5,537.7 642.2,537.7 642.9,536.4 643.6,536.4 644.3,536.8 645,536.7 645.7,537.8 646.4,537.3 647.1,538.9 647.8,536.5 648.5,536.3 649.2,537.9 649.9,536.1 650.6,537.3 651.3,533.2 652,533.9 652.7,535 653.4,534.4 654.1,532.6 654.8,530.8 655.5,527.7 656.2,523.9 656.9,519.1 657.6,516.8 658.3,513.5 659,516.2 659.7,519.2 660.4,527.1 661.1,532.8 661.8,537.2 662.5,537.3 663.2,537.6 663.9,537 664.6,539.1 665.3,540.3 666,538.5 666.7,536.5 667.4,538.2 668.1,538.1 668.8,538 669.5,539.5 670.2,539.2 670.9,539 671.6,537.2 672.3,537.7 673,536.7 673.7,538 674.4,536.6 675.1,538 675.8,537.4 676.5,536.9 677.2,535.7 677.9,536.9 678.6,535 679.3,535.1 680,535.7 680.7,538 681.4,536.7 682.1,536 682.8,537.1 683.5,538.4 684.2,536.5 684.9,535.5 685.6,535.5 686.3,536.6 687,537.9 687.7,536.6 688.4,536.3 689.1,535.7 689.8,535.8 690.5,537.4 691.2,537.1 691.9,536.9 692.6,535.8 693.3,537.1 694,537.3 694.7,538.2 695.4,537.8 696.1,536.8 696.8,537.1 697.5,537.2 698.2,536.8 698.9,536.3 699.6,537.8 700.3,538.9 701,537.3 701.7,538.3 702.4,536.9 703.1,536.7 703.8,536.7 704.5,535.8 705.2,536 705.9,535 706.6,531.6 707.3,533 708,532.4 708.7,532.4 709.4,529.9 710.1,530.9 710.8,533.4 711.5,534.9 712.2,536.3 712.9,534.4 713.6,534.3 714.3,535.1 715,533.8 715.7,535 716.4,535.4 717.1,534.6 717.8,531.8 718.5,530.9 719.2,529.8 719.9,529 720.6,531.1 721.3,533.3 722,535.1 722.7,537.9 723.4,539.4 724.1,540.1 724.8,540.9 725.5,541.2 726.2,542.4 726.9,542.8 727.6,543.9 728.3,543.6 729,543.6 729.7,542.2 730.4,541.7 731.1,541.4 731.8,542.1 732.5,542.5 733.2,542.6 733.9,541.5 734.6,541 735.3,541.3 736,540.3 736.7,539.4 737.4,540.4 738.1,539.5 738.8,538.6 739.5,539.3 740.2,539 740.9,539.4 741.6,538.9 742.3,539 743,538.8 743.7,539.2 744.4,539.6 745.1,539.4 745.8,539.2 746.5,540.1 747.2,539.1 747.9,540.8 748.6,542.3 749.3,542.6 750,543.3 750.7,542.6 751.4,544.4 752.1,543.9 752.8,545.4 753.5,545.3 754.2,545.8 754.9,545 755.6,545.4 756.3,544.7 757,546.6 757.7,545.8 758.4,540.1 759.1,535 759.8,526.2 760.5,510.3 761.2,485.5 761.9,475.7 762.6,478.8 763.3,510.4 764,525.9 764.7,533 765.4,536.8 766.1,540.3 766.8,541.8 767.5,543.3 768.2,542 768.9,543.9 769.6,546.7 770.3,544.7 771,544.4 771.7,545 772.4,545 773.1,545.4 773.8,545.6 774.5,545.2 775.2,546.9 775.9,546.7 776.6,547.4 777.3,547.1 778,547.9 778.7,547.7 779.4,550 780.1,549.1 780.8,546.3 781.5,542 782.2,537.7 782.9,535.5 783.6,533.2 784.3,531 785,528.7 785.7,526.8 786.4,524.7 787.1,523.7 787.8,524.5 788.5,528.1 789.2,531.5 789.9,534.4 790.6,537.4 791.3,536.5 792,535.9 792.7,535 793.4,534.2 794.1,532.8 794.8,532.9 795.5,535.3 796.2,536.2 796.9,535 797.6,539 798.3,544.9 799,550.5 799.7,557.9 800.4,547.4 801.1,517.8 801.8,491.4 802.5,490.7 803.2,492.4 803.9,508.5 804.6,530.7 805.3,555.1 806,567.3 806.7,573.1 807.4,574.3 808.1,576.7 808.8,577.2 809.5,576.6 810.2,575.6 810.9,576.4 811.6,577.1 812.3,575.7 813,576.7 813.7,577.2 814.4,576.2 815.1,576.4 815.8,577.9 816.5,577.9 817.2,578.3 817.9,577.4 818.6,576.5 819.3,577.1 820,576.8 820.7,577.2 821.4,578 822.1,578.8 822.8,578 823.5,578.9 824.2,576.6 824.9,577.1 825.6,577.1 826.3,575.5 827,575.7 827.7,576.7 828.4,577.2 829.1,577.4 829.8,577.1 830.5,576.6 831.2,575.8 831.9,576.9 832.6,578.1 833.3,577.2 834,576.2 834.7,576.7 835.4,577 836.1,577.5 836.8,576.2 837.5,576.8 838.2,576.8 838.9,576.1 839.6,576 840.3,575.8 841,576.1 841.7,576.1 842.4,575 843.1,575.9 843.8,577.3 844.5,576.1 845.2,574.9 845.9,577.3 846.6,576.4 847.3,576.7 848,577 848.7,576.3 849.4,575.9 850.1,576.2 850.8,577.1 851.5,577 852.2,577.1 852.9,578.9 853.6,577.8 854.3,578.4 855,579.3 855.7,577.9 856.4,577.3 857.1,576.7 857.8,576.5 858.5,577.1 859.2,575.9 859.9,574.1 860.6,573.1 861.3,571.6 862,569.5 862.7,565.1 863.4,565 864.1,563.9 864.8,563.2 865.5,564.1 866.2,565.7 866.9,567.8 867.6,570.8 868.3,570 869,571.6 869.7,572.9 870.4,573.2 871.1,574.5 871.8,574.9 872.5,577.2 873.2,578.1 873.9,577.6 874.6,580.1 875.3,579.2 876,578 876.7,578 877.4,579.2 878.1,577.2 878.8,578.4 879.5,578.7 880.2,580.3 880.9,580.7 881.6,582.8 882.3,583.1 883,585 883.5,584.5" fill="none" stroke="#ff0000" stroke-width="5.0" stroke-linejoin="round" stroke-linecap="butt" />
</g>
<rect x="91.2" y="3.5" width="793.2" height="634.8" fill="none" stroke="#000" stroke-width="2"/>
<line x1="91.2" y1="638.3" x2="91.2" y2="651.8" stroke="#000000" stroke-width="2" />
<line x1="170.5" y1="638.3" x2="170.5" y2="645.3" stroke="#000000" stroke-width="2" />
<line x1="249.8" y1="638.3" x2="249.8" y2="651.8" stroke="#000000" stroke-width="2" />
<line x1="329.2" y1="638.3" x2="329.2" y2="645.3" stroke="#000000" stroke-width="2" />
<line x1="408.5" y1="638.3" x2="408.5" y2="651.8" stroke="#000000" stroke-width="2" />
<line x1="487.8" y1="638.3" x2="487.8" y2="645.3" stroke="#000000" stroke-width="2" />
<line x1="567.1" y1="638.3" x2="567.1" y2="651.8" stroke="#000000" stroke-width="2" />
<line x1="646.4" y1="638.3" x2="646.4" y2="645.3" stroke="#000000" stroke-width="2" />
<line x1="725.8" y1="638.3" x2="725.8" y2="651.8" stroke="#000000" stroke-width="2" />
<line x1="805.1" y1="638.3" x2="805.1" y2="645.3" stroke="#000000" stroke-width="2" />
<line x1="884.4" y1="638.3" x2="884.4" y2="651.8" stroke="#000000" stroke-width="2" />
<text transform="translate(91.2,688) scale(1.0,1.04)" font-size="37.7" font-weight="bold" text-anchor="middle" fill="#000000" >1000</text>
<text transform="translate(249.8,688) scale(1.0,1.04)" font-size="37.7" font-weight="bold" text-anchor="middle" fill="#000000" >800</text>
<text transform="translate(408.5,688) scale(1.0,1.04)" font-size="37.7" font-weight="bold" text-anchor="middle" fill="#000000" >600</text>
<text transform="translate(567.1,688) scale(1.0,1.04)" font-size="37.7" font-weight="bold" text-anchor="middle" fill="#000000" >400</text>
<text transform="translate(725.8,688) scale(1.0,1.04)" font-size="37.7" font-weight="bold" text-anchor="middle" fill="#000000" >200</text>
<text transform="translate(884.4,688) scale(1.0,1.04)" font-size="37.7" font-weight="bold" text-anchor="middle" fill="#000000" >0</text>
<text transform="translate(107.6,49.3) scale(1.0,1.08)" font-size="38.1" font-weight="bold" text-anchor="start" fill="#000000" >Survey Spectra</text>
<text transform="translate(462.7,43.6) scale(1.0,1.06)" font-size="39.4" font-weight="bold" text-anchor="middle" fill="#000000" >O</text>
<text transform="translate(172.3,319.2) scale(1.0,1.07)" font-size="38" font-weight="bold" text-anchor="middle" fill="#000000" >Ce</text>
<text transform="translate(658,502.3) scale(1.0,1.07)" font-size="38" font-weight="bold" text-anchor="middle" fill="#000000" >C</text>
<text transform="translate(761,462.3) scale(1.0,1.07)" font-size="38" font-weight="bold" text-anchor="middle" fill="#000000" >Si</text>
<rect x="703.1" y="11.7" width="176.1" height="97.5" fill="#fff" stroke="#222" stroke-width="1"/><line x1="708.4" y1="38.9" x2="782" y2="38.9" stroke="#000000" stroke-width="4.8" stroke-linecap="round"/><line x1="708.4" y1="86.4" x2="782" y2="86.4" stroke="#ff0000" stroke-width="4.8" stroke-linecap="round"/><text transform="translate(792.6,50.3) scale(1.0,1.04)" font-size="37.5" font-weight="bold" text-anchor="start" fill="#000000" >pH 4</text><text transform="translate(792.6,97.3) scale(1.0,1.04)" font-size="37.5" font-weight="bold" text-anchor="start" fill="#000000" >pH 8</text>
<text transform="translate(486,757.3) scale(1.0,1.035)" font-size="44.6" font-weight="bold" text-anchor="middle" fill="#000000" >Binding Energy (eV)</text>
<text transform="translate(444,841.3) scale(1.04,1.0)" font-size="54" font-weight="bold" text-anchor="middle" fill="#000000" style="font-family:'Liberation Serif',serif" >(a)</text>
<text transform="translate(37,319.7) rotate(-90) scale(1.0,1.035)" font-size="44.6" font-weight="bold" text-anchor="middle" fill="#000000" >Intensity (a.u.)</text>
</g>
<g id="chart-b">
<clipPath id="cb"><rect x="91.3" y="926.1" width="792.3000000000001" height="635.1999999999999"/></clipPath>
<g clip-path="url(#cb)">
<polyline points="92,1206.1 92.8,1201.1 93.6,1198.6 94.4,1194.3 95.2,1199.2 96,1199.1 96.8,1198.5 97.6,1200.1 98.4,1199.9 99.2,1196.3 100,1196.3 100.8,1198 101.6,1201.2 102.4,1201.1 103.2,1197.2 104,1198.3 104.8,1203.8 105.6,1206.2 106.4,1202.5 107.2,1200.7 108,1203.6 108.8,1201.1 109.6,1203.1 110.4,1205.1 111.2,1203.1 112,1201.9 112.8,1203 113.6,1200.6 114.4,1201.2 115.2,1200.6 116,1200.8 116.8,1199.6 117.6,1199.3 118.4,1198.5 119.2,1199.2 120,1199.2 120.8,1199.9 121.6,1200.9 122.4,1195.2 123.2,1199.8 124,1197.1 124.8,1195 125.6,1198.1 126.4,1200.6 127.2,1203.2 128,1200 128.8,1202.6 129.6,1202.3 130.4,1198 131.2,1199 132,1203.3 132.8,1204.6 133.6,1205.5 134.4,1204.4 135.2,1203.9 136,1203.9 136.8,1205.6 137.6,1201.6 138.4,1202.4 139.2,1202.8 140,1199.5 140.8,1204.6 141.6,1201.5 142.4,1203.8 143.2,1208.7 144,1203.1 144.8,1203.8 145.6,1208 146.4,1203.2 147.2,1204.2 148,1206.8 148.8,1207 149.6,1206.6 150.4,1205.9 151.2,1207.3 152,1206.2 152.8,1204.1 153.6,1200.4 154.4,1198.9 155.2,1197 156,1201.4 156.8,1197.7 157.6,1203.4 158.4,1205.4 159.2,1198.6 160,1197.6 160.8,1198.1 161.6,1199.7 162.4,1195.9 163.2,1196.1 164,1195.2 164.8,1196.1 165.6,1198.7 166.4,1194.3 167.2,1195.6 168,1196.3 168.8,1196.1 169.6,1191.7 170.4,1195.5 171.2,1194.8 172,1194.9 172.8,1192.2 173.6,1187.7 174.4,1189.4 175.2,1192.4 176,1190.7 176.8,1190.8 177.6,1195.4 178.4,1196.6 179.2,1192.7 180,1194.9 180.8,1186.4 181.6,1185.5 182.4,1191.4 183.2,1189.8 184,1190.5 184.8,1189.6 185.6,1187.5 186.4,1187.7 187.2,1184.9 188,1180.5 188.8,1183.1 189.6,1184.1 190.4,1186.2 191.2,1179.7 192,1180.1 192.8,1178.6 193.6,1178.6 194.4,1181.1 195.2,1177.1 196,1173.4 196.8,1173.3 197.6,1172.5 198.4,1166.8 199.2,1166.1 200,1167.8 200.8,1163.9 201.6,1158.7 202.4,1155.2 203.2,1153.3 204,1149.6 204.8,1153.3 205.6,1151.2 206.4,1147.6 207.2,1141.6 208,1139.7 208.8,1139.3 209.6,1135.6 210.4,1130.9 211.2,1129.9 212,1127.2 212.8,1119.8 213.6,1115.2 214.4,1109.9 215.2,1105.3 216,1104.9 216.8,1100.3 217.6,1094.2 218.4,1085.2 219.2,1079.7 220,1076.2 220.8,1070.2 221.6,1065.3 222.4,1058.9 223.2,1056.8 224,1055.1 224.8,1051.8 225.6,1050.4 226.4,1049.9 227.2,1054.8 228,1054.8 228.8,1056.5 229.6,1053.2 230.4,1051.6 231.2,1051.2 232,1054.1 232.8,1054.3 233.6,1055.7 234.4,1056.7 235.2,1062.7 236,1064.9 236.8,1074.7 237.6,1077.2 238.4,1082.6 239.2,1087.1 240,1089.3 240.8,1095.4 241.6,1104.6 242.4,1112.8 243.2,1112.3 244,1117.2 244.8,1123 245.6,1124.2 246.4,1128.6 247.2,1136.2 248,1141.2 248.8,1144.7 249.6,1151.3 250.4,1151.1 251.2,1154.9 252,1161.3 252.8,1164.1 253.6,1160.6 254.4,1166.4 255.2,1173 256,1171.1 256.8,1173.9 257.6,1176 258.4,1178.4 259.2,1182.2 260,1188.5 260.8,1194.3 261.6,1196.9 262.4,1194.4 263.2,1191.3 264,1195.8 264.8,1197 265.6,1198.8 266.4,1197.7 267.2,1195 268,1199.1 268.8,1195.7 269.6,1199.3 270.4,1203.4 271.2,1205.7 272,1208 272.8,1201.6 273.6,1207.8 274.4,1210.6 275.2,1209.9 276,1211.6 276.8,1208.8 277.6,1211.9 278.4,1211.3 279.2,1207.5 280,1207.8 280.8,1209.4 281.6,1210.1 282.4,1214.5 283.2,1214.5 284,1217.1 284.8,1216.6 285.6,1213.4 286.4,1211.5 287.2,1209.3 288,1209.1 288.8,1209.4 289.6,1211.4 290.4,1209.3 291.2,1211.1 292,1211.9 292.8,1211.2 293.6,1213.1 294.4,1217.9 295.2,1218.2 296,1212.6 296.8,1212.4 297.6,1211.6 298.4,1211.9 299.2,1215 300,1212.9 300.8,1212.9 301.6,1212.2 302.4,1206.2 303.2,1205.3 304,1206.2 304.8,1208.4 305.6,1207.1 306.4,1209.4 307.2,1211.8 308,1212.5 308.8,1210.9 309.6,1207.9 310.4,1207.1 311.2,1213.2 312,1212.4 312.8,1209.2 313.6,1210.1 314.4,1210.6 315.2,1209.4 316,1213.7 316.8,1212.8 317.6,1214.1 318.4,1216.1 319.2,1214.4 320,1215 320.8,1214.6 321.6,1213.6 322.4,1214.2 323.2,1217.3 324,1213.1 324.8,1213.9 325.6,1207.4 326.4,1207.8 327.2,1204.8 328,1199.8 328.8,1195.4 329.6,1202.5 330.4,1197.2 331.2,1196.2 332,1198.1 332.8,1197.9 333.6,1197.4 334.4,1195 335.2,1192.2 336,1195.9 336.8,1192.8 337.6,1194.3 338.4,1195.3 339.2,1195.5 340,1191.6 340.8,1190 341.6,1188.8 342.4,1185.1 343.2,1186.5 344,1186 344.8,1185.8 345.6,1188.2 346.4,1187.9 347.2,1191.3 348,1189.2 348.8,1180.5 349.6,1181.6 350.4,1178.7 351.2,1179.8 352,1177.6 352.8,1176.3 353.6,1172.5 354.4,1170.1 355.2,1164.4 356,1157.6 356.8,1158.8 357.6,1159.5 358.4,1159.6 359.2,1159.1 360,1163.8 360.8,1160.9 361.6,1162.7 362.4,1160.4 363.2,1163.3 364,1158.2 364.8,1160 365.6,1156.3 366.4,1159.1 367.2,1159.9 368,1151.7 368.8,1151.4 369.6,1153.1 370.4,1151.1 371.2,1148.5 372,1152.9 372.8,1151.4 373.6,1152.6 374.4,1149 375.2,1144 376,1144.5 376.8,1147 377.6,1141.2 378.4,1143.1 379.2,1147.5 380,1150.6 380.8,1151 381.6,1148.3 382.4,1155.2 383.2,1151.1 384,1149.5 384.8,1148.2 385.6,1145.9 386.4,1142.9 387.2,1143.4 388,1145.3 388.8,1138.4 389.6,1135.6 390.4,1142.4 391.2,1144.3 392,1147.3 392.8,1150.9 393.6,1148.3 394.4,1151.9 395.2,1155.5 396,1158.6 396.8,1158.1 397.6,1153.2 398.4,1151 399.2,1152.1 400,1150.1 400.8,1155.3 401.6,1153.2 402.4,1152.9 403.2,1153.2 404,1158.4 404.8,1156.1 405.6,1153.9 406.4,1155.2 407.2,1153.9 408,1155.4 408.8,1157 409.6,1154.4 410.4,1156.2 411.2,1157.2 412,1158.6 412.8,1157 413.6,1154.6 414.4,1152.6 415.2,1153.5 416,1151 416.8,1153.8 417.6,1152.9 418.4,1152.6 419.2,1149.3 420,1147.1 420.8,1146.7 421.6,1150.1 422.4,1147.3 423.2,1145.3 424,1141.5 424.8,1142.5 425.6,1136.2 426.4,1144.2 427.2,1141.2 428,1138.8 428.8,1134 429.6,1133.5 430.4,1136.2 431.2,1134.6 432,1136 432.8,1138.4 433.6,1136.7 434.4,1131.3 435.2,1132.6 436,1132.8 436.8,1132.5 437.6,1129.7 438.4,1129.8 439.2,1133.3 440,1135.1 440.8,1137.7 441.6,1137.3 442.4,1139.9 443.2,1133.3 444,1133.8 444.8,1137.5 445.6,1136.4 446.4,1134.8 447.2,1138.4 448,1140 448.8,1140 449.6,1136 450.4,1135.3 451.2,1134.2 452,1132.3 452.8,1131.9 453.6,1127.6 454.4,1127.1 455.2,1122.5 456,1128.7 456.8,1131.2 457.6,1127.8 458.4,1128.1 459.2,1122.4 460,1123.4 460.8,1121.4 461.6,1124.6 462.4,1123.9 463.2,1118.5 464,1116.9 464.8,1115.6 465.6,1117.2 466.4,1107.6 467.2,1101.9 468,1097.7 468.8,1093 469.6,1086.4 470.4,1078.8 471.2,1075.8 472,1076.1 472.8,1068.9 473.6,1062.2 474.4,1056.4 475.2,1055.7 476,1052.6 476.8,1047.6 477.6,1045.9 478.4,1039.1 479.2,1036.3 480,1036.4 480.8,1035.3 481.6,1037.9 482.4,1037.6 483.2,1040.7 484,1046.9 484.8,1051.8 485.6,1058.3 486.4,1062.3 487.2,1067.8 488,1075.9 488.8,1082.7 489.6,1085.2 490.4,1092.1 491.2,1097.5 492,1105.4 492.8,1107.8 493.6,1114.2 494.4,1113.5 495.2,1118.2 496,1121.8 496.8,1120.1 497.6,1121.6 498.4,1115.5 499.2,1118.7 500,1119.2 500.8,1117.4 501.6,1114.5 502.4,1117.2 503.2,1111.9 504,1117.3 504.8,1116 505.6,1113 506.4,1104.1 507.2,1094.8 508,1088.7 508.8,1083 509.6,1079.6 510.4,1073.1 511.2,1069.1 512,1064.5 512.8,1060 513.6,1048.4 514.4,1047.3 515.2,1047.6 516,1044.4 516.8,1038.7 517.6,1036.5 518.4,1035.7 519.2,1035.7 520,1034.5 520.8,1034.7 521.6,1035.3 522.4,1039.5 523.2,1044.9 524,1043 524.8,1049.1 525.6,1054.4 526.4,1056.6 527.2,1066.4 528,1069.7 528.8,1079.8 529.6,1083.8 530.4,1089.8 531.2,1103.1 532,1115.9 532.8,1120.2 533.6,1128.9 534.4,1133 535.2,1139.8 536,1149.1 536.8,1154.7 537.6,1162.8 538.4,1170.3 539.2,1171.8 540,1179.2 540.8,1189.1 541.6,1200.5 542.4,1201.9 543.2,1207.3 544,1216.3 544.8,1225.5 545.6,1225.7 546.4,1230.9 547.2,1237.8 548,1245.7 548.8,1252.9 549.6,1249.8 550.4,1251.9 551.2,1259.5 552,1262.9 552.8,1259.8 553.6,1265.5 554.4,1271.4 555.2,1270.8 556,1273.9 556.8,1275.1 557.6,1277.2 558.4,1278.2 559.2,1280.1 560,1284.2 560.8,1283.6 561.6,1287.9 562.4,1292.5 563.2,1291.3 564,1292.6 564.8,1293.4 565.6,1295.5 566.4,1302.9 567.2,1301.9 568,1304.3 568.8,1301.9 569.6,1299.7 570.4,1299 571.2,1300.3 572,1300.8 572.8,1302.8 573.6,1300.3 574.4,1302.9 575.2,1304.6 576,1303.9 576.8,1304.4 577.6,1306.6 578.4,1306.8 579.2,1305 580,1304.2 580.8,1302.9 581.6,1304.5 582.4,1302.4 583.2,1299.1 584,1302.1 584.8,1305.1 585.6,1304.7 586.4,1302.9 587.2,1306.6 588,1307.2 588.8,1307.6 589.6,1308.8 590.4,1304.9 591.2,1305.7 592,1304.5 592.8,1307 593.6,1307.7 594.4,1306.5 595.2,1306.4 596,1303.8 596.8,1305.9 597.6,1303.7 598.4,1310.2 599.2,1307.7 600,1300 600.8,1297.7 601.6,1305.5 602.4,1302.4 603.2,1303.5 604,1299.7 604.8,1301 605.6,1299.7 606.4,1301.1 607.2,1299.1 608,1300.8 608.8,1295.8 609.6,1297.7 610.4,1294.5 611.2,1293.3 612,1287.6 612.8,1286.8 613.6,1291.7 614.4,1287.1 615.2,1287.4 616,1286.7 616.8,1285.1 617.6,1286.1 618.4,1282.2 619.2,1282.4 620,1286.3 620.8,1283.4 621.6,1285.9 622.4,1286.4 623.2,1287.6 624,1284.1 624.8,1278.1 625.6,1279.1 626.4,1279.8 627.2,1281.9 628,1278.6 628.8,1275.1 629.6,1274.9 630.4,1272 631.2,1271.8 632,1269.8 632.8,1269.8 633.6,1267.1 634.4,1266.6 635.2,1263.6 636,1263.4 636.8,1260.8 637.6,1260.7 638.4,1258.3 639.2,1255.5 640,1253.2 640.8,1252.4 641.6,1251.9 642.4,1246.1 643.2,1250.2 644,1242.3 644.8,1243.7 645.6,1242.5 646.4,1242.4 647.2,1239.2 648,1236.2 648.8,1234.7 649.6,1235.3 650.4,1235.9 651.2,1228.3 652,1219.7 652.8,1220.3 653.6,1222.1 654.4,1225.6 655.2,1215.6 656,1213.4 656.8,1213.8 657.6,1210.6 658.4,1205 659.2,1205.8 660,1199.1 660.8,1198.9 661.6,1200 662.4,1193.4 663.2,1194.2 664,1197.5 664.8,1192.5 665.6,1189.1 666.4,1189.7 667.2,1191.3 668,1185.5 668.8,1185 669.6,1182.3 670.4,1182.7 671.2,1187.4 672,1184.8 672.8,1183.6 673.6,1185 674.4,1182.3 675.2,1181.4 676,1186.3 676.8,1185.3 677.6,1180.8 678.4,1182.9 679.2,1183.5 680,1179.9 680.8,1177.1 681.6,1172 682.4,1171.9 683.2,1168.7 684,1173.8 684.8,1172.3 685.6,1173.8 686.4,1169.6 687.2,1170.8 688,1165.4 688.8,1166.7 689.6,1168.7 690.4,1168 691.2,1166 692,1163.6 692.8,1170.2 693.6,1170.8 694.4,1172.1 695.2,1171.7 696,1168.4 696.8,1170.4 697.6,1174.5 698.4,1167.6 699.2,1168.4 700,1167.4 700.8,1171.4 701.6,1167.8 702.4,1164.2 703.2,1164.5 704,1162.7 704.8,1160.1 705.6,1159.4 706.4,1163.4 707.2,1163.4 708,1165.3 708.8,1163.6 709.6,1166 710.4,1168.5 711.2,1161.7 712,1160.8 712.8,1166.3 713.6,1168.7 714.4,1160.9 715.2,1157.9 716,1161 716.8,1162 717.6,1164 718.4,1160.6 719.2,1161.6 720,1161.1 720.8,1157.8 721.6,1157.8 722.4,1162.3 723.2,1162.4 724,1159.9 724.8,1164.7 725.6,1164.6 726.4,1164.2 727.2,1165.4 728,1166.2 728.8,1167.9 729.6,1168.5 730.4,1165.7 731.2,1160.9 732,1164 732.8,1162.8 733.6,1161.9 734.4,1164.4 735.2,1159.8 736,1163.6 736.8,1160.2 737.6,1157.7 738.4,1159.5 739.2,1166.9 740,1165.2 740.8,1160.7 741.6,1162.7 742.4,1162.9 743.2,1156.1 744,1156.1 744.8,1158.4 745.6,1156.9 746.4,1155.3 747.2,1158.8 748,1156.5 748.8,1156.5 749.6,1158.6 750.4,1154.3 751.2,1155.9 752,1148.8 752.8,1144.5 753.6,1142.9 754.4,1142 755.2,1138.7 756,1133.8 756.8,1125.8 757.6,1122.7 758.4,1121.7 759.2,1121.2 760,1118 760.8,1106.3 761.6,1105.9 762.4,1102.1 763.2,1098.2 764,1093.4 764.8,1084.4 765.6,1076.8 766.4,1074.9 767.2,1068 768,1059.4 768.8,1054.1 769.6,1047.7 770.4,1042.9 771.2,1045.3 772,1043.7 772.8,1044.7 773.6,1050.5 774.4,1060 775.2,1062.5 776,1065.8 776.8,1070.6 777.6,1077.8 778.4,1082.7 779.2,1084.1 780,1091.7 780.8,1097.9 781.6,1106.8 782.4,1113.8 783.2,1119.3 784,1135 784.8,1142.7 785.6,1147.8 786.4,1162.1 787.2,1170.1 788,1179.5 788.8,1188.2 789.6,1197.7 790.4,1205.6 791.2,1212.9 792,1225 792.8,1236.4 793.6,1244.8 794.4,1252.7 795.2,1256 796,1256.9 796.8,1267.1 797.6,1268.6 798.4,1271 799.2,1276.4 800,1278.9 800.8,1285.7 801.6,1288.5 802.4,1297.6 803.2,1296.8 804,1298.2 804.8,1299.9 805.6,1299.4 806.4,1304.4 807.2,1307.8 808,1310.4 808.8,1309.5 809.6,1317.4 810.4,1323.7 811.2,1323.3 812,1326.6 812.8,1330.4 813.6,1330.6 814.4,1334.5 815.2,1340.7 816,1341.7 816.8,1340.4 817.6,1342.8 818.4,1353.9 819.2,1352.3 820,1349.2 820.8,1354.5 821.6,1358.1 822.4,1357.9 823.2,1356.4 824,1365.9 824.8,1366 825.6,1365.5 826.4,1368.2 827.2,1367.5 828,1368.4 828.8,1370.9 829.6,1366.5 830.4,1372.7 831.2,1373.1 832,1373.9 832.8,1374.8 833.6,1376.2 834.4,1375.9 835.2,1373.8 836,1371 836.8,1372.5 837.6,1369.9 838.4,1368.7 839.2,1371.8 840,1372.8 840.8,1373.7 841.6,1368 842.4,1374.3 843.2,1376.6 844,1376.9 844.8,1379.6 845.6,1375.5 846.4,1377.2 847.2,1376 848,1375.8 848.8,1373.6 849.6,1375.3 850.4,1377.5 851.2,1377 852,1377.5 852.8,1376.6 853.6,1381.3 854.4,1377.4 855.2,1378.4 856,1379.9 856.8,1378.9 857.6,1380.8 858.4,1380.7 859.2,1383.5 860,1380.9 860.8,1378.8 861.6,1375.9 862.4,1378.6 863.2,1380.7 864,1379.8 864.8,1377.5 865.6,1378.9 866.4,1380.8 867.2,1381.3 868,1379.5 868.8,1385.8 869.6,1382.3 870.4,1381.4 871.2,1380.1 872,1381.5 872.8,1385.1 873.6,1379.3 874.4,1379.1 875.2,1378.8 876,1381.2 876.8,1386.1 877.6,1382.3 878.4,1381.3 879.2,1378.9 880,1382 880.8,1383.4 881.6,1381.2 882.4,1380.4 883.2,1382 883.8,1381.1" fill="none" stroke="#000000" stroke-width="4.8" stroke-linejoin="round" stroke-linecap="butt" />
<polyline points="92,1325.5 92.8,1324.9 93.6,1325.4 94.4,1324.3 95.2,1325.6 96,1324.3 96.8,1325.1 97.6,1325.1 98.4,1324.9 99.2,1327 100,1325.1 100.8,1325.5 101.6,1325.7 102.4,1324.3 103.2,1325.6 104,1324.9 104.8,1325.6 105.6,1324.8 106.4,1324.9 107.2,1326.4 108,1326.2 108.8,1326.2 109.6,1326.7 110.4,1326.8 111.2,1326 112,1325.5 112.8,1325.8 113.6,1325.6 114.4,1325.1 115.2,1325.8 116,1325.7 116.8,1326 117.6,1326.2 118.4,1326.1 119.2,1326.4 120,1326.7 120.8,1326 121.6,1326.1 122.4,1326.4 123.2,1326 124,1326 124.8,1326.4 125.6,1327.3 126.4,1326.9 127.2,1326.6 128,1326.6 128.8,1327.1 129.6,1328.4 130.4,1325.4 131.2,1327.3 132,1327 132.8,1327 133.6,1325.6 134.4,1327.1 135.2,1326.3 136,1325.4 136.8,1325.3 137.6,1324.7 138.4,1325.1 139.2,1325 140,1325.6 140.8,1325.3 141.6,1325.1 142.4,1325.6 143.2,1325.5 144,1325.1 144.8,1323.9 145.6,1325 146.4,1323.5 147.2,1323.3 148,1323.9 148.8,1324.5 149.6,1325.1 150.4,1323.6 151.2,1325.5 152,1325.5 152.8,1324.1 153.6,1324.1 154.4,1323.9 155.2,1323.9 156,1323.7 156.8,1323.7 157.6,1324.8 158.4,1325.3 159.2,1326.2 160,1324.5 160.8,1323.8 161.6,1324.9 162.4,1324.5 163.2,1324.8 164,1324.3 164.8,1323.6 165.6,1323.8 166.4,1324.5 167.2,1324 168,1323.2 168.8,1324.1 169.6,1322.8 170.4,1323.3 171.2,1323.7 172,1322.8 172.8,1322.8 173.6,1323.4 174.4,1323 175.2,1322.5 176,1321.9 176.8,1321.2 177.6,1321.2 178.4,1323.1 179.2,1320.8 180,1321.6 180.8,1320 181.6,1320.5 182.4,1319.7 183.2,1318.4 184,1316.8 184.8,1315.5 185.6,1315.9 186.4,1313.7 187.2,1312.9 188,1313.8 188.8,1313.1 189.6,1311.7 190.4,1311.2 191.2,1310.6 192,1310.7 192.8,1309.5 193.6,1307.8 194.4,1307 195.2,1306.2 196,1303.7 196.8,1302.5 197.6,1301.6 198.4,1300.9 199.2,1298.4 200,1296.5 200.8,1295.7 201.6,1292.2 202.4,1290.3 203.2,1289 204,1286.6 204.8,1283 205.6,1277.6 206.4,1275.5 207.2,1271.3 208,1266.7 208.8,1262.8 209.6,1259.2 210.4,1254.7 211.2,1250.5 212,1246.6 212.8,1244.3 213.6,1240.6 214.4,1237.4 215.2,1233.8 216,1231.1 216.8,1227.8 217.6,1223.6 218.4,1218.4 219.2,1214.9 220,1209.9 220.8,1203.7 221.6,1201.1 222.4,1196 223.2,1193.6 224,1192.3 224.8,1189.5 225.6,1186.3 226.4,1184 227.2,1182.9 228,1180.5 228.8,1181.2 229.6,1181.2 230.4,1183.2 231.2,1184.8 232,1186.8 232.8,1190.5 233.6,1193.3 234.4,1195.9 235.2,1199.1 236,1202.7 236.8,1207.3 237.6,1212.2 238.4,1216.5 239.2,1220.8 240,1226.3 240.8,1231.8 241.6,1237 242.4,1241.1 243.2,1247.2 244,1252.4 244.8,1257 245.6,1263.1 246.4,1268.8 247.2,1273.8 248,1278.1 248.8,1282 249.6,1286.2 250.4,1288.9 251.2,1291.9 252,1296.3 252.8,1299 253.6,1302.8 254.4,1304.9 255.2,1308.7 256,1309.9 256.8,1312.3 257.6,1315.7 258.4,1318.4 259.2,1318.8 260,1321.9 260.8,1323.7 261.6,1324.8 262.4,1325.5 263.2,1325.5 264,1326.9 264.8,1328.3 265.6,1330.1 266.4,1330.7 267.2,1331.5 268,1333.1 268.8,1333.4 269.6,1335.7 270.4,1336.2 271.2,1338.5 272,1338.7 272.8,1338.8 273.6,1339.4 274.4,1339.2 275.2,1340.4 276,1339.9 276.8,1340.4 277.6,1341.1 278.4,1340.6 279.2,1340.7 280,1342 280.8,1341.2 281.6,1341.6 282.4,1341.1 283.2,1340.9 284,1342 284.8,1341.5 285.6,1340.7 286.4,1342.9 287.2,1342.7 288,1341.8 288.8,1342.9 289.6,1342 290.4,1341.6 291.2,1341.3 292,1342.7 292.8,1342 293.6,1342.2 294.4,1342.5 295.2,1342.5 296,1342.1 296.8,1342.8 297.6,1342.9 298.4,1344 299.2,1343.1 300,1344.3 300.8,1343.7 301.6,1343.5 302.4,1343.8 303.2,1343.7 304,1343.5 304.8,1343.4 305.6,1342.8 306.4,1341.3 307.2,1341.5 308,1342.4 308.8,1341.1 309.6,1339.5 310.4,1340.5 311.2,1341 312,1340.2 312.8,1339.2 313.6,1339.2 314.4,1339.4 315.2,1339.1 316,1339 316.8,1340.4 317.6,1339.3 318.4,1340 319.2,1338.3 320,1338.4 320.8,1337.8 321.6,1338.3 322.4,1337.4 323.2,1337 324,1336.6 324.8,1336.9 325.6,1337 326.4,1335.8 327.2,1336.1 328,1335.4 328.8,1334.6 329.6,1334.7 330.4,1334.7 331.2,1332 332,1333.4 332.8,1333.7 333.6,1332.4 334.4,1332.8 335.2,1332.9 336,1332.5 336.8,1332.2 337.6,1332.5 338.4,1331.9 339.2,1330.6 340,1330.1 340.8,1328.5 341.6,1328.3 342.4,1328 343.2,1327.4 344,1326.6 344.8,1327.2 345.6,1326.1 346.4,1325.6 347.2,1323.7 348,1323.4 348.8,1322.5 349.6,1322 350.4,1322.3 351.2,1322 352,1319.9 352.8,1319 353.6,1317.5 354.4,1316 355.2,1315.5 356,1313.3 356.8,1311.7 357.6,1311.4 358.4,1309.9 359.2,1308.9 360,1307.6 360.8,1306.5 361.6,1304.9 362.4,1303.7 363.2,1302.1 364,1301.4 364.8,1301.2 365.6,1300.7 366.4,1300.5 367.2,1300 368,1300.4 368.8,1298.5 369.6,1298.2 370.4,1297.6 371.2,1297.8 372,1296.1 372.8,1295.4 373.6,1296.5 374.4,1295.9 375.2,1295.2 376,1294.5 376.8,1295.4 377.6,1294.7 378.4,1294 379.2,1293.9 380,1293.8 380.8,1295 381.6,1294.4 382.4,1294.3 383.2,1295.1 384,1296.7 384.8,1296.9 385.6,1296.8 386.4,1297.2 387.2,1298.3 388,1299.6 388.8,1300.1 389.6,1301 390.4,1302.3 391.2,1303 392,1303.5 392.8,1304.2 393.6,1305.1 394.4,1305.8 395.2,1306.8 396,1307.1 396.8,1307.1 397.6,1308.7 398.4,1307.9 399.2,1309.5 400,1308.8 400.8,1309.7 401.6,1310.8 402.4,1311.1 403.2,1310.4 404,1311.2 404.8,1310.7 405.6,1311.4 406.4,1311.8 407.2,1311.3 408,1312.3 408.8,1311.6 409.6,1311.4 410.4,1310.4 411.2,1310.3 412,1310.3 412.8,1310.4 413.6,1310.1 414.4,1309.2 415.2,1308.8 416,1308.5 416.8,1310.3 417.6,1309.7 418.4,1309.6 419.2,1308.5 420,1309.4 420.8,1308.2 421.6,1307.7 422.4,1306.9 423.2,1306.1 424,1306.9 424.8,1306.1 425.6,1305.4 426.4,1304.1 427.2,1303.2 428,1303.4 428.8,1304.4 429.6,1304.6 430.4,1302.7 431.2,1302.2 432,1300.9 432.8,1300.6 433.6,1300.8 434.4,1299.8 435.2,1300 436,1300.2 436.8,1299 437.6,1297.9 438.4,1298.9 439.2,1297.8 440,1296.8 440.8,1296.2 441.6,1295.3 442.4,1295.1 443.2,1293.3 444,1293.4 444.8,1292.2 445.6,1292.4 446.4,1292.3 447.2,1291.3 448,1291.8 448.8,1290 449.6,1288.8 450.4,1288.6 451.2,1287.8 452,1287.1 452.8,1286.3 453.6,1285.7 454.4,1285.7 455.2,1283.8 456,1284.4 456.8,1282.7 457.6,1281.6 458.4,1279.8 459.2,1279.4 460,1275.8 460.8,1274.2 461.6,1272.5 462.4,1270.6 463.2,1266.7 464,1264.8 464.8,1261.9 465.6,1257.3 466.4,1252.3 467.2,1249.8 468,1244.9 468.8,1240.6 469.6,1236.7 470.4,1231.8 471.2,1226.1 472,1221.6 472.8,1216.4 473.6,1212.7 474.4,1208.7 475.2,1205.8 476,1202.4 476.8,1200.1 477.6,1197.6 478.4,1195.4 479.2,1193.4 480,1191.4 480.8,1193 481.6,1193.8 482.4,1197.8 483.2,1200.8 484,1204.6 484.8,1208.2 485.6,1213.3 486.4,1216.4 487.2,1223.3 488,1230 488.8,1237.7 489.6,1243.5 490.4,1248.9 491.2,1254 492,1258.3 492.8,1260.6 493.6,1264.6 494.4,1266.1 495.2,1266.9 496,1269.3 496.8,1269.8 497.6,1270.7 498.4,1270.2 499.2,1268.9 500,1268.8 500.8,1268.2 501.6,1266.5 502.4,1265 503.2,1262.5 504,1259.9 504.8,1256.4 505.6,1252 506.4,1245.8 507.2,1240.4 508,1236.2 508.8,1229.2 509.6,1224.8 510.4,1219.7 511.2,1215.3 512,1210.6 512.8,1205.5 513.6,1200.3 514.4,1196.1 515.2,1191.1 516,1187.6 516.8,1183.4 517.6,1181.1 518.4,1177.2 519.2,1176.3 520,1174.6 520.8,1176.2 521.6,1178.1 522.4,1180.6 523.2,1183.5 524,1188 524.8,1191.1 525.6,1194.9 526.4,1202.2 527.2,1211.8 528,1220.1 528.8,1231.3 529.6,1239.3 530.4,1246.8 531.2,1256.3 532,1263 532.8,1268.9 533.6,1278.3 534.4,1284.9 535.2,1293.1 536,1301.2 536.8,1309.6 537.6,1317.4 538.4,1325.1 539.2,1334.7 540,1341.3 540.8,1347.6 541.6,1352.7 542.4,1358.9 543.2,1364.7 544,1369.4 544.8,1374.1 545.6,1377.5 546.4,1380.8 547.2,1385.5 548,1388.7 548.8,1392.6 549.6,1395.9 550.4,1397.9 551.2,1400.3 552,1403.6 552.8,1405.5 553.6,1406.6 554.4,1410.3 555.2,1411.5 556,1413.2 556.8,1414.4 557.6,1416.8 558.4,1419.1 559.2,1420.7 560,1422.8 560.8,1423.9 561.6,1424.2 562.4,1425.8 563.2,1426.9 564,1427.7 564.8,1428.7 565.6,1429.6 566.4,1430.5 567.2,1432 568,1433.3 568.8,1434.6 569.6,1434.3 570.4,1435 571.2,1434.3 572,1436.6 572.8,1437.5 573.6,1437.7 574.4,1438.6 575.2,1438.7 576,1439.1 576.8,1439.2 577.6,1439.7 578.4,1439.8 579.2,1442 580,1442.2 580.8,1442.1 581.6,1442.2 582.4,1443.3 583.2,1442.9 584,1442.2 584.8,1442.8 585.6,1443 586.4,1443 587.2,1442.8 588,1441.4 588.8,1441.5 589.6,1440.5 590.4,1441.4 591.2,1440.8 592,1440.2 592.8,1442.1 593.6,1441.5 594.4,1440.3 595.2,1440.6 596,1439.4 596.8,1439.7 597.6,1439 598.4,1437.6 599.2,1437.7 600,1438 600.8,1437.2 601.6,1435.7 602.4,1436.4 603.2,1436.5 604,1435.9 604.8,1435.9 605.6,1434.3 606.4,1432.7 607.2,1434.2 608,1432.2 608.8,1432.2 609.6,1430.9 610.4,1431.6 611.2,1430.1 612,1430.2 612.8,1429.9 613.6,1430.5 614.4,1430.7 615.2,1429.9 616,1429.7 616.8,1428.7 617.6,1427.9 618.4,1426.5 619.2,1426.3 620,1424.1 620.8,1424.9 621.6,1423.7 622.4,1423 623.2,1422.9 624,1420.4 624.8,1420.2 625.6,1420.3 626.4,1419 627.2,1418.5 628,1416.9 628.8,1415.3 629.6,1415 630.4,1413.8 631.2,1412.7 632,1411.6 632.8,1411.4 633.6,1408.8 634.4,1408.1 635.2,1408.4 636,1406 636.8,1405 637.6,1403.7 638.4,1401.3 639.2,1399.3 640,1397.2 640.8,1394.8 641.6,1395.1 642.4,1394.2 643.2,1392.8 644,1390.8 644.8,1389.3 645.6,1387.7 646.4,1385 647.2,1383 648,1380.7 648.8,1379.6 649.6,1376.8 650.4,1375.3 651.2,1374.5 652,1370.9 652.8,1370.1 653.6,1369.8 654.4,1368 655.2,1367.8 656,1365.5 656.8,1364.7 657.6,1364.8 658.4,1362.4 659.2,1361.6 660,1360.2 660.8,1360 661.6,1357.5 662.4,1357.2 663.2,1356.8 664,1356.2 664.8,1354.7 665.6,1354.2 666.4,1352.6 667.2,1353.2 668,1351.5 668.8,1350.8 669.6,1350.5 670.4,1348.8 671.2,1348 672,1348 672.8,1348.2 673.6,1346.5 674.4,1346.4 675.2,1347.8 676,1347.5 676.8,1347.9 677.6,1349.2 678.4,1348.2 679.2,1348.4 680,1349.4 680.8,1348.6 681.6,1349.5 682.4,1349.7 683.2,1350.2 684,1350.4 684.8,1349.6 685.6,1350 686.4,1350 687.2,1349.6 688,1350.8 688.8,1350.3 689.6,1350.1 690.4,1350 691.2,1350.8 692,1350.6 692.8,1351.8 693.6,1352.4 694.4,1351.8 695.2,1351.9 696,1352.3 696.8,1353.1 697.6,1352.4 698.4,1353.2 699.2,1352.4 700,1351.4 700.8,1353.7 701.6,1353.3 702.4,1352.7 703.2,1352.8 704,1352.9 704.8,1353.6 705.6,1352.4 706.4,1352.6 707.2,1352 708,1351.6 708.8,1351.8 709.6,1351.3 710.4,1350.3 711.2,1351.3 712,1347.8 712.8,1349.5 713.6,1347.5 714.4,1347.2 715.2,1347.7 716,1347.6 716.8,1347.5 717.6,1345.6 718.4,1347.2 719.2,1345.2 720,1345.6 720.8,1345.8 721.6,1344.6 722.4,1344 723.2,1343.9 724,1342.7 724.8,1341.4 725.6,1342.2 726.4,1341.8 727.2,1341.2 728,1340.7 728.8,1340.6 729.6,1340 730.4,1339.5 731.2,1338.3 732,1336.4 732.8,1337.4 733.6,1336.9 734.4,1336.5 735.2,1336.4 736,1334.2 736.8,1332.8 737.6,1334.4 738.4,1333.6 739.2,1332.4 740,1330.9 740.8,1331.8 741.6,1330.1 742.4,1330.7 743.2,1329 744,1328.5 744.8,1325.4 745.6,1326.1 746.4,1324.3 747.2,1322.7 748,1322.1 748.8,1322.4 749.6,1318.9 750.4,1316.4 751.2,1316.2 752,1313 752.8,1311.3 753.6,1310.3 754.4,1308.1 755.2,1305.9 756,1304 756.8,1301 757.6,1297.6 758.4,1295.3 759.2,1291.7 760,1287.8 760.8,1283.1 761.6,1278.4 762.4,1273.3 763.2,1267 764,1261.6 764.8,1256.5 765.6,1250.7 766.4,1243 767.2,1235.8 768,1232.5 768.8,1228.4 769.6,1227.1 770.4,1225.5 771.2,1224.9 772,1223 772.8,1224.9 773.6,1225 774.4,1227.7 775.2,1229.5 776,1234.3 776.8,1236.6 777.6,1242.1 778.4,1249.2 779.2,1256.7 780,1268 780.8,1276.6 781.6,1290.4 782.4,1303.1 783.2,1314 784,1324.1 784.8,1334 785.6,1344.3 786.4,1352.8 787.2,1359.9 788,1367.6 788.8,1375.3 789.6,1381.9 790.4,1386.1 791.2,1393.6 792,1399 792.8,1405.2 793.6,1410 794.4,1414.9 795.2,1420.4 796,1425 796.8,1429.2 797.6,1432.5 798.4,1436.5 799.2,1440.7 800,1442.8 800.8,1445.5 801.6,1449.4 802.4,1451.9 803.2,1456.3 804,1458.6 804.8,1462 805.6,1465.7 806.4,1467.2 807.2,1469.9 808,1472.7 808.8,1475 809.6,1476.5 810.4,1480.4 811.2,1482.4 812,1485.1 812.8,1487.8 813.6,1490 814.4,1491.7 815.2,1493.9 816,1495.2 816.8,1495.9 817.6,1497.5 818.4,1499.3 819.2,1500.8 820,1502.6 820.8,1502.9 821.6,1505.3 822.4,1506.8 823.2,1507.7 824,1508.1 824.8,1508.3 825.6,1511 826.4,1510.2 827.2,1511.1 828,1512.2 828.8,1512 829.6,1512.9 830.4,1514.4 831.2,1515.4 832,1514.9 832.8,1515.5 833.6,1515.8 834.4,1515.8 835.2,1515.6 836,1517.2 836.8,1517.2 837.6,1517.4 838.4,1518 839.2,1519.7 840,1519.6 840.8,1519.4 841.6,1520.6 842.4,1520.7 843.2,1520.6 844,1520.2 844.8,1521.2 845.6,1521.9 846.4,1521.6 847.2,1523.8 848,1522.5 848.8,1522 849.6,1521.8 850.4,1523.5 851.2,1523 852,1523.1 852.8,1522.8 853.6,1523.7 854.4,1523.6 855.2,1522.9 856,1523.2 856.8,1522.8 857.6,1523.7 858.4,1523.3 859.2,1523.7 860,1523.5 860.8,1523.5 861.6,1522 862.4,1522.5 863.2,1522.2 864,1522 864.8,1522.5 865.6,1523.8 866.4,1524.1 867.2,1524.7 868,1524.4 868.8,1524.3 869.6,1523.6 870.4,1523.5 871.2,1523.4 872,1523.1 872.8,1523 873.6,1524 874.4,1524.7 875.2,1523.3 876,1523 876.8,1524.1 877.6,1523.4 878.4,1522.6 879.2,1523.5 880,1522.3 880.8,1523.7 881.6,1523 882.4,1522.2 883.2,1522.8 883.8,1522.3" fill="none" stroke="#ff0000" stroke-width="4.9" stroke-linejoin="round" stroke-linecap="butt" />
</g>
<rect x="91.3" y="926.1" width="792.3" height="635.2" fill="none" stroke="#000" stroke-width="2"/>
<line x1="91.3" y1="1561.3" x2="91.3" y2="1574.5" stroke="#000000" stroke-width="2" />
<line x1="130.9" y1="1561.3" x2="130.9" y2="1568.3" stroke="#000000" stroke-width="2" />
<line x1="170.5" y1="1561.3" x2="170.5" y2="1574.5" stroke="#000000" stroke-width="2" />
<line x1="210.1" y1="1561.3" x2="210.1" y2="1568.3" stroke="#000000" stroke-width="2" />
<line x1="249.8" y1="1561.3" x2="249.8" y2="1574.5" stroke="#000000" stroke-width="2" />
<line x1="289.4" y1="1561.3" x2="289.4" y2="1568.3" stroke="#000000" stroke-width="2" />
<line x1="329" y1="1561.3" x2="329" y2="1574.5" stroke="#000000" stroke-width="2" />
<line x1="368.6" y1="1561.3" x2="368.6" y2="1568.3" stroke="#000000" stroke-width="2" />
<line x1="408.2" y1="1561.3" x2="408.2" y2="1574.5" stroke="#000000" stroke-width="2" />
<line x1="447.8" y1="1561.3" x2="447.8" y2="1568.3" stroke="#000000" stroke-width="2" />
<line x1="487.5" y1="1561.3" x2="487.5" y2="1574.5" stroke="#000000" stroke-width="2" />
<line x1="527.1" y1="1561.3" x2="527.1" y2="1568.3" stroke="#000000" stroke-width="2" />
<line x1="566.7" y1="1561.3" x2="566.7" y2="1574.5" stroke="#000000" stroke-width="2" />
<line x1="606.3" y1="1561.3" x2="606.3" y2="1568.3" stroke="#000000" stroke-width="2" />
<line x1="645.9" y1="1561.3" x2="645.9" y2="1574.5" stroke="#000000" stroke-width="2" />
<line x1="685.5" y1="1561.3" x2="685.5" y2="1568.3" stroke="#000000" stroke-width="2" />
<line x1="725.1" y1="1561.3" x2="725.1" y2="1574.5" stroke="#000000" stroke-width="2" />
<line x1="764.8" y1="1561.3" x2="764.8" y2="1568.3" stroke="#000000" stroke-width="2" />
<line x1="804.4" y1="1561.3" x2="804.4" y2="1574.5" stroke="#000000" stroke-width="2" />
<line x1="844" y1="1561.3" x2="844" y2="1568.3" stroke="#000000" stroke-width="2" />
<line x1="883.6" y1="1561.3" x2="883.6" y2="1574.5" stroke="#000000" stroke-width="2" />
<text transform="translate(91.3,1610.3) scale(1.0,1.04)" font-size="37.7" font-weight="bold" text-anchor="middle" fill="#000000" >925</text>
<text transform="translate(170.5,1610.3) scale(1.0,1.04)" font-size="37.7" font-weight="bold" text-anchor="middle" fill="#000000" >920</text>
<text transform="translate(249.8,1610.3) scale(1.0,1.04)" font-size="37.7" font-weight="bold" text-anchor="middle" fill="#000000" >915</text>
<text transform="translate(329,1610.3) scale(1.0,1.04)" font-size="37.7" font-weight="bold" text-anchor="middle" fill="#000000" >910</text>
<text transform="translate(408.2,1610.3) scale(1.0,1.04)" font-size="37.7" font-weight="bold" text-anchor="middle" fill="#000000" >905</text>
<text transform="translate(487.5,1610.3) scale(1.0,1.04)" font-size="37.7" font-weight="bold" text-anchor="middle" fill="#000000" >900</text>
<text transform="translate(566.7,1610.3) scale(1.0,1.04)" font-size="37.7" font-weight="bold" text-anchor="middle" fill="#000000" >895</text>
<text transform="translate(645.9,1610.3) scale(1.0,1.04)" font-size="37.7" font-weight="bold" text-anchor="middle" fill="#000000" >890</text>
<text transform="translate(725.1,1610.3) scale(1.0,1.04)" font-size="37.7" font-weight="bold" text-anchor="middle" fill="#000000" >885</text>
<text transform="translate(804.4,1610.3) scale(1.0,1.04)" font-size="37.7" font-weight="bold" text-anchor="middle" fill="#000000" >880</text>
<text transform="translate(883.6,1610.3) scale(1.0,1.04)" font-size="37.7" font-weight="bold" text-anchor="middle" fill="#000000" >875</text>
<text transform="translate(109.6,972) scale(1.0,1.08)" font-size="38.1" font-weight="bold" text-anchor="start" fill="#000000" >Ce 3d Spectra</text>
<rect x="710.4" y="930.4" width="168.2" height="97.2" fill="#fff" stroke="#222" stroke-width="1"/><line x1="715.2" y1="958.9" x2="781.8" y2="958.9" stroke="#000000" stroke-width="4.8" stroke-linecap="round"/><line x1="715.2" y1="1005.4" x2="781.8" y2="1005.4" stroke="#ff0000" stroke-width="4.8" stroke-linecap="round"/><text transform="translate(791.8,969.3) scale(1.0,1.04)" font-size="37.5" font-weight="bold" text-anchor="start" fill="#000000" >pH 4</text><text transform="translate(791.8,1015.6) scale(1.0,1.04)" font-size="37.5" font-weight="bold" text-anchor="start" fill="#000000" >pH 8</text>
<line x1="772.2" y1="1031.5" x2="772.2" y2="1250" stroke="#ff2a2a" stroke-width="1.7" stroke-dasharray="8.3 2.83"/>
<line x1="796" y1="1054.8" x2="785.1" y2="1049.1" stroke="#000000" stroke-width="2.4" /><polygon points="776.2,1044.5 788.4,1045 783.6,1054.2" fill="#000000"/>
<line x1="739.8" y1="1236.3" x2="754.7" y2="1227.1" stroke="#ff0000" stroke-width="2.4" /><polygon points="763.2,1221.8 756.6,1232 751.1,1223.2" fill="#ff0000"/>
<text transform="translate(785.3,1084) scale(1.047,1.15)" font-size="29" font-weight="normal" text-anchor="start" fill="#000000" stroke="#000" stroke-width="0.45">882.04</text>
<text transform="translate(664.7,1266.4) scale(1.047,1.15)" font-size="29" font-weight="normal" text-anchor="start" fill="#ff0000" stroke="#ff0000" stroke-width="0.45">882.07</text>
<text transform="translate(486,1680) scale(1.0,1.035)" font-size="44.6" font-weight="bold" text-anchor="middle" fill="#000000" >Binding Energy (eV)</text>
<text transform="translate(444.5,1764.4) scale(1.04,1.0)" font-size="54" font-weight="bold" text-anchor="middle" fill="#000000" style="font-family:'Liberation Serif',serif" >(b)</text>
<text transform="translate(37.3,1240.6) rotate(-90) scale(1.0,1.05)" font-size="44.0" font-weight="bold" text-anchor="middle" fill="#000000" >Intensity (a.u.)</text>
</g>
<g id="chart-c">
<clipPath id="cc"><rect x="95.2" y="1848.9" width="793.5" height="635.0999999999999"/></clipPath>
<g clip-path="url(#cc)">
<polyline points="95.2,2268.9 97.2,2268.9 99.2,2268.9 101.2,2268.9 103.2,2268.9 105.2,2268.8 107.2,2268.8 109.2,2268.8 111.2,2268.8 113.2,2268.7 115.2,2268.7 117.2,2268.7 119.2,2268.6 121.2,2268.6 123.2,2268.6 125.2,2268.5 127.2,2268.5 129.2,2268.4 131.2,2268.4 133.2,2268.3 135.2,2268.3 137.2,2268.2 139.2,2268.1 141.2,2268.1 143.2,2268 145.2,2267.9 147.2,2267.8 149.2,2267.8 151.2,2267.7 153.2,2267.6 155.2,2267.5 157.2,2267.4 159.2,2267.3 161.2,2267.2 163.2,2267.1 165.2,2267 167.2,2266.9 169.2,2266.8 171.2,2266.7 173.2,2266.6 175.2,2266.4 177.2,2266.3 179.2,2266.2 181.2,2266 183.2,2265.9 185.2,2265.7 187.2,2265.6 189.2,2265.4 191.2,2265.3 193.2,2265.1 195.2,2264.9 197.2,2264.8 199.2,2264.6 201.2,2264.4 203.2,2264.2 205.2,2264 207.2,2263.8 209.2,2263.6 211.2,2263.4 213.2,2263.2 215.2,2262.9 217.2,2262.7 219.2,2262.5 221.2,2262.2 223.2,2262 225.2,2261.7 227.2,2261.4 229.2,2261.1 231.2,2260.9 233.2,2260.6 235.2,2260.3 237.2,2259.9 239.2,2259.6 241.2,2259.3 243.2,2258.9 245.2,2258.6 247.2,2258.2 249.2,2257.8 251.2,2257.4 253.2,2257 255.2,2256.6 257.2,2256.1 259.2,2255.7 261.2,2255.2 263.2,2254.7 265.2,2254.2 267.2,2253.6 269.2,2253.1 271.2,2252.5 273.2,2251.9 275.2,2251.3 277.2,2250.6 279.2,2249.9 281.2,2249.2 283.2,2248.4 285.2,2247.6 287.2,2246.8 289.2,2245.9 291.2,2244.9 293.2,2244 295.2,2242.9 297.2,2241.9 299.2,2240.7 301.2,2239.5 303.2,2238.3 305.2,2236.9 307.2,2235.5 309.2,2234 311.2,2232.5 313.2,2230.9 315.2,2229.1 317.2,2227.3 319.2,2225.4 321.2,2223.4 323.2,2221.3 325.2,2219 327.2,2216.7 329.2,2214.3 331.2,2211.7 333.2,2209 335.2,2206.1 337.2,2203.2 339.2,2200.1 341.2,2196.8 343.2,2193.4 345.2,2189.9 347.2,2186.2 349.2,2182.3 351.2,2178.4 353.2,2174.2 355.2,2169.9 357.2,2165.4 359.2,2160.8 361.2,2156 363.2,2151.1 365.2,2146 367.2,2140.8 369.2,2135.4 371.2,2129.9 373.2,2124.2 375.2,2118.5 377.2,2112.6 379.2,2106.6 381.2,2100.5 383.2,2094.3 385.2,2088.1 387.2,2081.7 389.2,2075.2 391.2,2068.7 393.2,2062 395.2,2055.3 397.2,2048.5 399.2,2041.7 401.2,2034.9 403.2,2028.1 405.2,2021.4 407.2,2014.6 409.2,2008 411.2,2001.4 413.2,1994.9 415.2,1988.5 417.2,1982.3 419.2,1976.2 421.2,1970.4 423.2,1964.8 425.2,1959.4 427.2,1954.4 429.2,1949.7 431.2,1945.3 433.2,1941.2 435.2,1937.6 437.2,1934.4 439.2,1931.6 441.2,1929.1 443.2,1927 445.2,1925.2 447.2,1923.7 449.2,1922.5 451.2,1921.5 453.2,1920.8 455.2,1920.5 457.2,1920.4 459.2,1920.6 461.2,1921.1 463.2,1922 465.2,1923.1 467.2,1924.5 469.2,1926.3 471.2,1928.4 473.2,1930.8 475.2,1933.6 477.2,1936.8 479.2,1940.3 481.2,1944.4 483.2,1948.8 485.2,1953.7 487.2,1959.1 489.2,1965 491.2,1971.2 493.2,1977.8 495.2,1984.7 497.2,1991.8 499.2,1998.9 501.2,2006.2 503.2,2013.4 505.2,2020.5 507.2,2027.6 509.2,2034.6 511.2,2041.4 513.2,2048 515.2,2054.4 517.2,2060.7 519.2,2066.9 521.2,2072.9 523.2,2079 525.2,2085 527.2,2091.1 529.2,2097.2 531.2,2103.2 533.2,2109.3 535.2,2115.3 537.2,2121.2 539.2,2127.1 541.2,2132.9 543.2,2138.5 545.2,2144.1 547.2,2149.6 549.2,2154.9 551.2,2160.1 553.2,2165.2 555.2,2170.1 557.2,2174.9 559.2,2179.5 561.2,2183.9 563.2,2188.1 565.2,2192.2 567.2,2196.1 569.2,2199.8 571.2,2203.3 573.2,2206.6 575.2,2209.8 577.2,2212.8 579.2,2215.6 581.2,2218.3 583.2,2220.9 585.2,2223.3 587.2,2225.6 589.2,2227.7 591.2,2229.7 593.2,2231.7 595.2,2233.5 597.2,2235.2 599.2,2236.8 601.2,2238.3 603.2,2239.7 605.2,2241.1 607.2,2242.4 609.2,2243.6 611.2,2244.7 613.2,2245.8 615.2,2246.8 617.2,2247.7 619.2,2248.6 621.2,2249.4 623.2,2250.2 625.2,2251 627.2,2251.7 629.2,2252.3 631.2,2252.9 633.2,2253.5 635.2,2254 637.2,2254.6 639.2,2255 641.2,2255.5 643.2,2255.9 645.2,2256.3 647.2,2256.7 649.2,2257 651.2,2257.4 653.2,2257.7 655.2,2258 657.2,2258.3 659.2,2258.5 661.2,2258.8 663.2,2259 665.2,2259.2 667.2,2259.4 669.2,2259.6 671.2,2259.8 673.2,2259.9 675.2,2260.1 677.2,2260.2 679.2,2260.3 681.2,2260.4 683.2,2260.5 685.2,2260.6 687.2,2260.7 689.2,2260.8 691.2,2260.8 693.2,2260.9 695.2,2260.9 697.2,2260.9 699.2,2260.9 701.2,2260.9 703.2,2260.9 705.2,2260.9 707.2,2260.8 709.2,2260.8 711.2,2260.8 713.2,2260.7 715.2,2260.6 717.2,2260.6 719.2,2260.5 721.2,2260.4 723.2,2260.3 725.2,2260.2 727.2,2260.1 729.2,2260 731.2,2260 733.2,2259.9 735.2,2259.8 737.2,2259.7 739.2,2259.6 741.2,2259.6 743.2,2259.5 745.2,2259.5 747.2,2259.5 749.2,2259.5 751.2,2259.6 753.2,2259.6 755.2,2259.7 757.2,2259.8 759.2,2259.9 761.2,2260 763.2,2260.2 765.2,2260.4 767.2,2260.6 769.2,2260.8 771.2,2261 773.2,2261.3 775.2,2261.6 777.2,2261.8 779.2,2262.1 781.2,2262.4 783.2,2262.7 785.2,2263 787.2,2263.3 789.2,2263.7 791.2,2264 793.2,2264.3 795.2,2264.6 797.2,2264.9 799.2,2265.2 801.2,2265.5 803.2,2265.7 805.2,2266 807.2,2266.3 809.2,2266.5 811.2,2266.8 813.2,2267 815.2,2267.3 817.2,2267.5 819.2,2267.7 821.2,2268 823.2,2268.2 825.2,2268.4 827.2,2268.6 829.2,2268.7 831.2,2268.9 833.2,2269.1 835.2,2269.3 837.2,2269.4 839.2,2269.6 841.2,2269.7 843.2,2269.8 845.2,2270 847.2,2270.1 849.2,2270.2 851.2,2270.3 853.2,2270.4 855.2,2270.5 857.2,2270.6 859.2,2270.7 861.2,2270.8 863.2,2270.9 865.2,2271 867.2,2271.1 869.2,2271.1 871.2,2271.2 873.2,2271.2 875.2,2271.3 877.2,2271.3 879.2,2271.4 881.2,2271.4 883.2,2271.5 885.2,2271.5 887.2,2271.5" fill="none" stroke="#000000" stroke-width="4.8" stroke-linejoin="round" stroke-linecap="butt" />
<polyline points="95.2,2447.3 97.2,2447.2 99.2,2447.1 101.2,2446.9 103.2,2446.8 105.2,2446.7 107.2,2446.6 109.2,2446.5 111.2,2446.4 113.2,2446.3 115.2,2446.2 117.2,2446.2 119.2,2446.1 121.2,2446 123.2,2445.9 125.2,2445.8 127.2,2445.7 129.2,2445.6 131.2,2445.5 133.2,2445.4 135.2,2445.3 137.2,2445.2 139.2,2445.1 141.2,2445 143.2,2444.9 145.2,2444.8 147.2,2444.7 149.2,2444.6 151.2,2444.5 153.2,2444.4 155.2,2444.3 157.2,2444.2 159.2,2444.1 161.2,2444 163.2,2443.9 165.2,2443.7 167.2,2443.6 169.2,2443.5 171.2,2443.4 173.2,2443.3 175.2,2443.1 177.2,2443 179.2,2442.9 181.2,2442.7 183.2,2442.6 185.2,2442.4 187.2,2442.3 189.2,2442.1 191.2,2442 193.2,2441.8 195.2,2441.6 197.2,2441.4 199.2,2441.3 201.2,2441.1 203.2,2440.9 205.2,2440.7 207.2,2440.5 209.2,2440.3 211.2,2440.1 213.2,2439.9 215.2,2439.6 217.2,2439.4 219.2,2439.1 221.2,2438.9 223.2,2438.6 225.2,2438.4 227.2,2438.1 229.2,2437.8 231.2,2437.5 233.2,2437.2 235.2,2436.9 237.2,2436.5 239.2,2436.2 241.2,2435.8 243.2,2435.4 245.2,2435 247.2,2434.6 249.2,2434.2 251.2,2433.8 253.2,2433.3 255.2,2432.8 257.2,2432.3 259.2,2431.7 261.2,2431.2 263.2,2430.6 265.2,2430 267.2,2429.3 269.2,2428.6 271.2,2427.9 273.2,2427.1 275.2,2426.3 277.2,2425.5 279.2,2424.6 281.2,2423.7 283.2,2422.7 285.2,2421.6 287.2,2420.5 289.2,2419.4 291.2,2418.2 293.2,2416.9 295.2,2415.7 297.2,2414.3 299.2,2413 301.2,2411.5 303.2,2410.1 305.2,2408.6 307.2,2407 309.2,2405.4 311.2,2403.8 313.2,2402.1 315.2,2400.4 317.2,2398.7 319.2,2396.9 321.2,2395 323.2,2393.2 325.2,2391.3 327.2,2389.3 329.2,2387.2 331.2,2384.9 333.2,2382.5 335.2,2379.9 337.2,2377.1 339.2,2374 341.2,2370.6 343.2,2366.9 345.2,2362.9 347.2,2358.7 349.2,2354.2 351.2,2349.4 353.2,2344.4 355.2,2339.2 357.2,2333.8 359.2,2328.2 361.2,2322.4 363.2,2316.4 365.2,2310.3 367.2,2304 369.2,2297.7 371.2,2291.2 373.2,2284.7 375.2,2278.1 377.2,2271.4 379.2,2264.8 381.2,2258.1 383.2,2251.3 385.2,2244.5 387.2,2237.6 389.2,2230.6 391.2,2223.6 393.2,2216.5 395.2,2209.4 397.2,2202.4 399.2,2195.4 401.2,2188.6 403.2,2181.9 405.2,2175.5 407.2,2169.3 409.2,2163.4 411.2,2157.9 413.2,2152.6 415.2,2147.6 417.2,2142.8 419.2,2138.3 421.2,2134 423.2,2129.8 425.2,2125.9 427.2,2122.3 429.2,2118.8 431.2,2115.6 433.2,2112.6 435.2,2109.8 437.2,2107.3 439.2,2105 441.2,2103 443.2,2101.3 445.2,2099.9 447.2,2098.8 449.2,2098.1 451.2,2097.6 453.2,2097.6 455.2,2097.9 457.2,2098.5 459.2,2099.6 461.2,2101 463.2,2102.8 465.2,2105 467.2,2107.5 469.2,2110.4 471.2,2113.5 473.2,2117.1 475.2,2120.9 477.2,2125 479.2,2129.3 481.2,2134 483.2,2138.8 485.2,2143.9 487.2,2149.2 489.2,2154.7 491.2,2160.4 493.2,2166.2 495.2,2172.1 497.2,2178.2 499.2,2184.3 501.2,2190.5 503.2,2196.8 505.2,2203.2 507.2,2209.5 509.2,2215.9 511.2,2222.2 513.2,2228.6 515.2,2234.9 517.2,2241.1 519.2,2247.3 521.2,2253.5 523.2,2259.5 525.2,2265.4 527.2,2271.2 529.2,2276.9 531.2,2282.5 533.2,2288 535.2,2293.3 537.2,2298.5 539.2,2303.5 541.2,2308.4 543.2,2313.1 545.2,2317.7 547.2,2322.1 549.2,2326.4 551.2,2330.6 553.2,2334.5 555.2,2338.4 557.2,2342 559.2,2345.6 561.2,2349 563.2,2352.2 565.2,2355.3 567.2,2358.3 569.2,2361.1 571.2,2363.8 573.2,2366.4 575.2,2368.9 577.2,2371.2 579.2,2373.4 581.2,2375.6 583.2,2377.6 585.2,2379.5 587.2,2381.4 589.2,2383.1 591.2,2384.8 593.2,2386.3 595.2,2387.8 597.2,2389.2 599.2,2390.6 601.2,2391.9 603.2,2393.1 605.2,2394.3 607.2,2395.4 609.2,2396.4 611.2,2397.4 613.2,2398.3 615.2,2399.2 617.2,2400.1 619.2,2400.9 621.2,2401.7 623.2,2402.4 625.2,2403.1 627.2,2403.7 629.2,2404.4 631.2,2404.9 633.2,2405.5 635.2,2406 637.2,2406.5 639.2,2406.9 641.2,2407.3 643.2,2407.7 645.2,2408 647.2,2408.3 649.2,2408.6 651.2,2408.8 653.2,2408.9 655.2,2409.1 657.2,2409.1 659.2,2409.2 661.2,2409.2 663.2,2409.1 665.2,2409 667.2,2408.8 669.2,2408.6 671.2,2408.3 673.2,2408 675.2,2407.6 677.2,2407.1 679.2,2406.6 681.2,2406 683.2,2405.3 685.2,2404.6 687.2,2403.8 689.2,2403 691.2,2402.1 693.2,2401.2 695.2,2400.2 697.2,2399.1 699.2,2398 701.2,2396.9 703.2,2395.7 705.2,2394.5 707.2,2393.2 709.2,2392 711.2,2390.7 713.2,2389.4 715.2,2388.1 717.2,2386.8 719.2,2385.5 721.2,2384.3 723.2,2383.1 725.2,2381.9 727.2,2380.8 729.2,2379.7 731.2,2378.7 733.2,2377.7 735.2,2376.9 737.2,2376.1 739.2,2375.5 741.2,2374.9 743.2,2374.5 745.2,2374.1 747.2,2373.9 749.2,2373.8 751.2,2373.9 753.2,2374 755.2,2374.3 757.2,2374.8 759.2,2375.3 761.2,2376 763.2,2376.9 765.2,2377.8 767.2,2378.9 769.2,2380 771.2,2381.3 773.2,2382.7 775.2,2384.1 777.2,2385.7 779.2,2387.3 781.2,2389 783.2,2390.8 785.2,2392.6 787.2,2394.4 789.2,2396.3 791.2,2398.2 793.2,2400.1 795.2,2402.1 797.2,2404 799.2,2405.9 801.2,2407.8 803.2,2409.7 805.2,2411.6 807.2,2413.4 809.2,2415.2 811.2,2416.9 813.2,2418.6 815.2,2420.3 817.2,2421.9 819.2,2423.4 821.2,2424.9 823.2,2426.3 825.2,2427.7 827.2,2429 829.2,2430.2 831.2,2431.4 833.2,2432.5 835.2,2433.6 837.2,2434.6 839.2,2435.6 841.2,2436.5 843.2,2437.3 845.2,2438.1 847.2,2438.8 849.2,2439.5 851.2,2440.2 853.2,2440.8 855.2,2441.3 857.2,2441.9 859.2,2442.4 861.2,2442.8 863.2,2443.3 865.2,2443.7 867.2,2444 869.2,2444.4 871.2,2444.7 873.2,2445 875.2,2445.3 877.2,2445.6 879.2,2445.8 881.2,2446 883.2,2446.3 885.2,2446.5 887.2,2446.7" fill="none" stroke="#ff0000" stroke-width="4.8" stroke-linejoin="round" stroke-linecap="butt" />
</g>
<rect x="95.2" y="1848.9" width="793.5" height="635.1" fill="none" stroke="#000" stroke-width="2"/>
<line x1="140" y1="2484" x2="140" y2="2498" stroke="#000000" stroke-width="2" />
<text transform="translate(140,2534.6) scale(1.0,1.04)" font-size="37.7" font-weight="bold" text-anchor="middle" fill="#000000" >536</text>
<line x1="228.1" y1="2484" x2="228.1" y2="2491" stroke="#000000" stroke-width="2" />
<line x1="316.1" y1="2484" x2="316.1" y2="2498" stroke="#000000" stroke-width="2" />
<text transform="translate(316.1,2534.6) scale(1.0,1.04)" font-size="37.7" font-weight="bold" text-anchor="middle" fill="#000000" >534</text>
<line x1="404.2" y1="2484" x2="404.2" y2="2491" stroke="#000000" stroke-width="2" />
<line x1="492.2" y1="2484" x2="492.2" y2="2498" stroke="#000000" stroke-width="2" />
<text transform="translate(492.2,2534.6) scale(1.0,1.04)" font-size="37.7" font-weight="bold" text-anchor="middle" fill="#000000" >532</text>
<line x1="580.3" y1="2484" x2="580.3" y2="2491" stroke="#000000" stroke-width="2" />
<line x1="668.4" y1="2484" x2="668.4" y2="2498" stroke="#000000" stroke-width="2" />
<text transform="translate(668.4,2534.6) scale(1.0,1.04)" font-size="37.7" font-weight="bold" text-anchor="middle" fill="#000000" >530</text>
<line x1="756.4" y1="2484" x2="756.4" y2="2491" stroke="#000000" stroke-width="2" />
<line x1="844.5" y1="2484" x2="844.5" y2="2498" stroke="#000000" stroke-width="2" />
<text transform="translate(844.5,2534.6) scale(1.0,1.04)" font-size="37.7" font-weight="bold" text-anchor="middle" fill="#000000" >528</text>
<text transform="translate(113.2,1893.7) scale(1.0,1.08)" font-size="38.1" font-weight="bold" text-anchor="start" fill="#000000" >O 1s Spectra</text>
<rect x="704.3" y="1856.4" width="175.7" height="98.6" fill="#fff" stroke="#222" stroke-width="1"/><line x1="709.7" y1="1883.8" x2="782" y2="1883.8" stroke="#000000" stroke-width="4.8" stroke-linecap="round"/><line x1="709.7" y1="1930.7" x2="782" y2="1930.7" stroke="#ff0000" stroke-width="4.8" stroke-linecap="round"/><text transform="translate(792.8,1894.7) scale(1.0,1.04)" font-size="37.5" font-weight="bold" text-anchor="start" fill="#000000" >pH 4</text><text transform="translate(792.8,1941.5) scale(1.0,1.04)" font-size="37.5" font-weight="bold" text-anchor="start" fill="#000000" >pH 8</text>
<line x1="450.6" y1="1895.8" x2="450.6" y2="2189.6" stroke="#ff2a2a" stroke-width="1.7" stroke-dasharray="8.3 2.83"/>
<line x1="457.1" y1="1895.8" x2="457.1" y2="1950" stroke="#1a1a1a" stroke-width="1.7" stroke-dasharray="8.3 2.83"/>
<line x1="477.7" y1="1897.8" x2="467.3" y2="1907.3" stroke="#000000" stroke-width="2.4" /><polygon points="459.9,1914 464.5,1902.8 471.5,1910.4" fill="#000000"/>
<text transform="translate(457.5,1890) scale(1.047,1.15)" font-size="29" font-weight="normal" text-anchor="start" fill="#000000" stroke="#000" stroke-width="0.45">532.40</text>
<line x1="430.8" y1="2194.7" x2="439" y2="2186.9" stroke="#ff0000" stroke-width="2.4" /><polygon points="446.2,2180 441.8,2191.4 434.7,2183.8" fill="#ff0000"/>
<text transform="translate(404.5,2224.9) scale(1.047,1.15)" font-size="29" font-weight="normal" text-anchor="start" fill="#ff0000" stroke="#ff0000" stroke-width="0.45">532.48</text>
<line x1="750.2" y1="2229.5" x2="750.2" y2="2409.6" stroke="#ff2a2a" stroke-width="1.7" stroke-dasharray="8.3 2.83"/>
<line x1="753.6" y1="2229.5" x2="753.6" y2="2282.9" stroke="#1a1a1a" stroke-width="1.7" stroke-dasharray="8.3 2.83"/>
<line x1="774.8" y1="2236.3" x2="764.5" y2="2244.7" stroke="#000000" stroke-width="2.4" /><polygon points="756.7,2251 762,2240 768.5,2248.1" fill="#000000"/>
<text transform="translate(754.5,2223.6) scale(1.047,1.15)" font-size="29" font-weight="normal" text-anchor="start" fill="#000000" stroke="#000" stroke-width="0.45">529.00</text>
<line x1="728.8" y1="2414.4" x2="737.5" y2="2405.1" stroke="#ff0000" stroke-width="2.4" /><polygon points="744.3,2397.8 740.6,2409.4 733,2402.3" fill="#ff0000"/>
<text transform="translate(672.6,2443.2) scale(1.047,1.15)" font-size="29" font-weight="normal" text-anchor="start" fill="#ff0000" stroke="#ff0000" stroke-width="0.45">529.02</text>
<text transform="translate(492.5,2602.7) scale(1.0,1.035)" font-size="45.2" font-weight="bold" text-anchor="middle" fill="#000000" >Binding Energy (eV)</text>
<text transform="translate(444,2686.6) scale(1.04,1.0)" font-size="54" font-weight="bold" text-anchor="middle" fill="#000000" style="font-family:'Liberation Serif',serif" >(c)</text>
<text transform="translate(41.5,2163.6) rotate(-90) scale(1.0,1.065)" font-size="44.3" font-weight="bold" text-anchor="middle" fill="#000000" >Intensity (a.u.)</text>
</g>
</svg>
</body>
</html>
